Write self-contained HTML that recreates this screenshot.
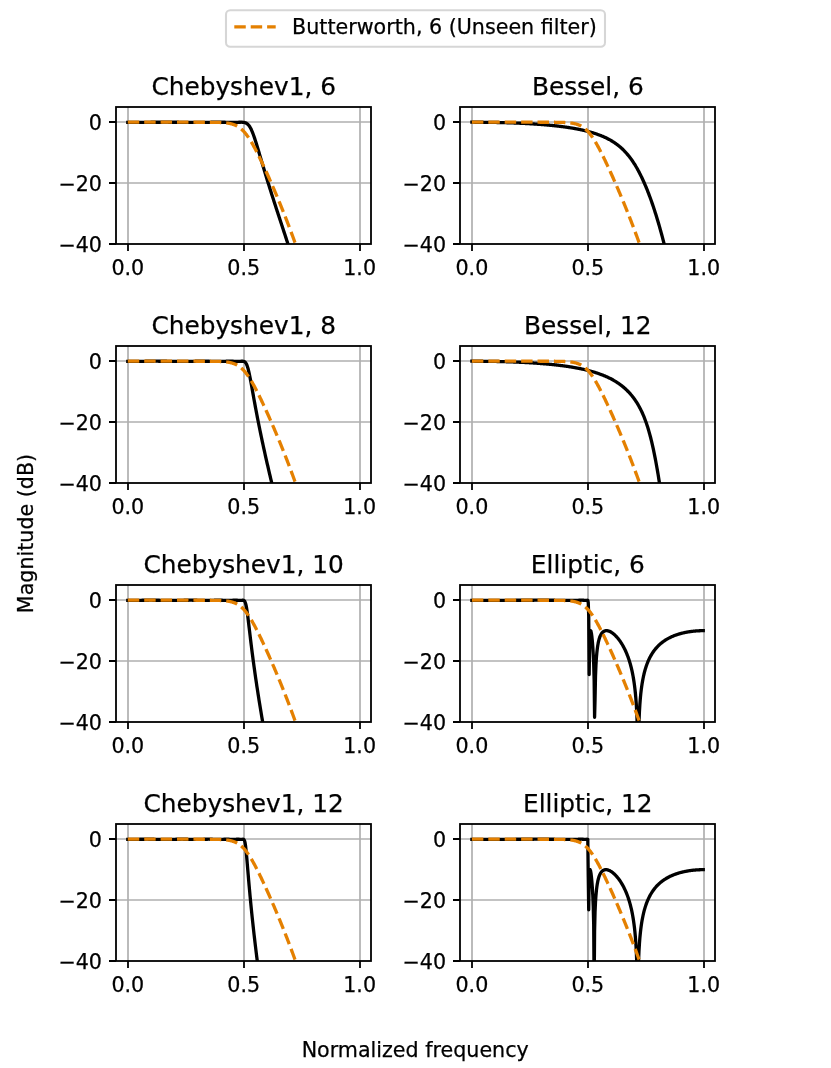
<!DOCTYPE html>
<html><head><meta charset="utf-8"><title>Filter magnitude responses</title>
<style>
html,body{margin:0;padding:0;background:#fff}
svg{display:block}
text{font-family:"DejaVu Sans","Liberation Sans",sans-serif;fill:#000;stroke:#000;stroke-width:0.25px}
.t{font-size:20.65px}
.h{font-size:24.80px}
</style></head><body>
<svg width="831" height="1068" viewBox="0 0 831 1068">
<rect width="831" height="1068" fill="#fff"/>
<defs>
<clipPath id="c00"><rect x="116.20" y="107.00" width="255.00" height="137.00"/></clipPath>
<clipPath id="c01"><rect x="460.30" y="107.00" width="255.00" height="137.00"/></clipPath>
<clipPath id="c10"><rect x="116.20" y="346.00" width="255.00" height="137.00"/></clipPath>
<clipPath id="c11"><rect x="460.30" y="346.00" width="255.00" height="137.00"/></clipPath>
<clipPath id="c20"><rect x="116.20" y="585.00" width="255.00" height="137.00"/></clipPath>
<clipPath id="c21"><rect x="460.30" y="585.00" width="255.00" height="137.00"/></clipPath>
<clipPath id="c30"><rect x="116.20" y="824.00" width="255.00" height="137.00"/></clipPath>
<clipPath id="c31"><rect x="460.30" y="824.00" width="255.00" height="137.00"/></clipPath>
</defs>
<g>
<path d="M128 107V244M244 107V244M360 107V244M116 122H371M116 183H371" stroke="#b0b0b0" stroke-width="1.700" fill="none"/>
<path d="M128 244v7M244 244v7M360 244v7M116 122h-7M116 183h-7M116 244h-7" stroke="#000" stroke-width="1.800" fill="none"/>
<g clip-path="url(#c00)" fill="none" stroke-width="3.300" stroke-linejoin="round">
<path d="M127.79 122.37L128.24 122.37L128.70 122.37L129.15 122.37L129.60 122.37L130.05 122.37L130.51 122.37L130.96 122.37L131.41 122.37L131.87 122.37L132.32 122.37L132.77 122.37L133.22 122.37L133.68 122.37L134.13 122.36L134.58 122.36L135.04 122.36L135.49 122.36L135.94 122.36L136.39 122.36L136.85 122.35L137.30 122.35L137.75 122.35L138.20 122.35L138.66 122.35L139.11 122.34L139.56 122.34L140.02 122.34L140.47 122.34L140.92 122.33L141.37 122.33L141.83 122.33L142.28 122.33L142.73 122.32L143.19 122.32L143.64 122.32L144.09 122.32L144.54 122.31L145.00 122.31L145.45 122.31L145.90 122.31L146.35 122.30L146.81 122.30L147.26 122.30L147.71 122.29L148.17 122.29L148.62 122.29L149.07 122.29L149.52 122.28L149.98 122.28L150.43 122.28L150.88 122.27L151.33 122.27L151.79 122.27L152.24 122.27L152.69 122.26L153.15 122.26L153.60 122.26L154.05 122.26L154.50 122.25L154.96 122.25L155.41 122.25L155.86 122.25L156.32 122.24L156.77 122.24L157.22 122.24L157.67 122.24L158.13 122.24L158.58 122.23L159.03 122.23L159.48 122.23L159.94 122.23L160.39 122.23L160.84 122.23L161.30 122.23L161.75 122.23L162.20 122.22L162.65 122.22L163.11 122.22L163.56 122.22L164.01 122.22L164.47 122.22L164.92 122.22L165.37 122.22L165.82 122.22L166.28 122.22L166.73 122.22L167.18 122.22L167.63 122.22L168.09 122.22L168.54 122.23L168.99 122.23L169.45 122.23L169.90 122.23L170.35 122.23L170.80 122.23L171.26 122.23L171.71 122.24L172.16 122.24L172.62 122.24L173.07 122.24L173.52 122.24L173.97 122.25L174.43 122.25L174.88 122.25L175.33 122.25L175.78 122.26L176.24 122.26L176.69 122.26L177.14 122.27L177.60 122.27L178.05 122.27L178.50 122.27L178.95 122.28L179.41 122.28L179.86 122.28L180.31 122.29L180.76 122.29L181.22 122.29L181.67 122.30L182.12 122.30L182.58 122.31L183.03 122.31L183.48 122.31L183.93 122.32L184.39 122.32L184.84 122.32L185.29 122.33L185.75 122.33L186.20 122.33L186.65 122.34L187.10 122.34L187.56 122.34L188.01 122.34L188.46 122.35L188.91 122.35L189.37 122.35L189.82 122.36L190.27 122.36L190.73 122.36L191.18 122.36L191.63 122.36L192.08 122.37L192.54 122.37L192.99 122.37L193.44 122.37L193.90 122.37L194.35 122.37L194.80 122.37L195.25 122.37L195.71 122.37L196.16 122.37L196.61 122.37L197.06 122.37L197.52 122.37L197.97 122.37L198.42 122.37L198.88 122.37L199.33 122.37L199.78 122.37L200.23 122.37L200.69 122.36L201.14 122.36L201.59 122.36L202.05 122.36L202.50 122.35L202.95 122.35L203.40 122.35L203.86 122.34L204.31 122.34L204.76 122.34L205.21 122.33L205.67 122.33L206.12 122.32L206.57 122.32L207.03 122.31L207.48 122.31L207.93 122.30L208.38 122.30L208.84 122.29L209.29 122.29L209.74 122.29L210.20 122.28L210.65 122.28L211.10 122.27L211.55 122.27L212.01 122.26L212.46 122.26L212.91 122.25L213.36 122.25L213.82 122.24L214.27 122.24L214.72 122.24L215.18 122.23L215.63 122.23L216.08 122.23L216.53 122.23L216.99 122.23L217.44 122.22L217.89 122.22L218.34 122.22L218.80 122.22L219.25 122.22L219.70 122.22L220.16 122.22L220.61 122.23L221.06 122.23L221.51 122.23L221.97 122.24L222.42 122.24L222.87 122.24L223.33 122.25L223.78 122.25L224.23 122.26L224.68 122.27L225.14 122.27L225.59 122.28L226.04 122.29L226.49 122.29L226.95 122.30L227.40 122.31L227.85 122.32L228.31 122.32L228.76 122.33L229.21 122.34L229.66 122.35L230.12 122.35L230.57 122.36L231.02 122.36L231.48 122.37L231.93 122.37L232.38 122.37L232.83 122.37L233.29 122.37L233.74 122.37L234.19 122.37L234.64 122.37L235.10 122.36L235.55 122.35L236.00 122.35L236.46 122.34L236.91 122.33L237.36 122.31L237.81 122.30L238.27 122.29L238.72 122.27L239.17 122.26L239.63 122.25L240.08 122.24L240.53 122.23L240.98 122.22L241.44 122.22L241.89 122.23L242.34 122.25L242.79 122.28L243.25 122.32L243.70 122.37L244.15 122.45L244.61 122.55L245.06 122.68L245.51 122.84L245.96 123.03L246.42 123.27L246.87 123.55L247.32 123.89L247.77 124.28L248.23 124.73L248.68 125.24L249.13 125.82L249.59 126.47L250.04 127.20L250.49 127.99L250.94 128.87L251.40 129.81L251.85 130.82L252.30 131.89L252.76 133.03L253.21 134.23L253.66 135.48L254.11 136.77L254.57 138.11L255.02 139.48L255.47 140.89L255.92 142.32L256.38 143.78L256.83 145.26L257.28 146.75L257.74 148.26L258.19 149.78L258.64 151.30L259.09 152.83L259.55 154.36L260.00 155.89L260.45 157.42L260.91 158.96L261.36 160.49L261.81 162.01L262.26 163.54L262.72 165.06L263.17 166.57L263.62 168.08L264.07 169.59L264.53 171.09L264.98 172.58L265.43 174.07L265.89 175.55L266.34 177.03L266.79 178.50L267.24 179.97L267.70 181.43L268.15 182.89L268.60 184.34L269.06 185.79L269.51 187.23L269.96 188.67L270.41 190.10L270.87 191.53L271.32 192.96L271.77 194.38L272.22 195.79L272.68 197.21L273.13 198.62L273.58 200.02L274.04 201.43L274.49 202.83L274.94 204.22L275.39 205.62L275.85 207.01L276.30 208.40L276.75 209.79L277.20 211.18L277.66 212.56L278.11 213.95L278.56 215.33L279.02 216.71L279.47 218.09L279.92 219.47L280.37 220.84L280.83 222.22L281.28 223.60L281.73 224.97L282.19 226.35L282.64 227.73L283.09 229.10L283.54 230.48L284.00 231.86L284.45 233.23L284.90 234.61L285.35 235.99L285.81 237.37L286.26 238.75L286.71 240.14L287.17 241.52L287.62 242.91L288.07 244.30L288.52 245.69L288.98 247.08L289.43 248.47L289.88 249.87L290.34 251.27L290.79 252.67L291.24 254.07L291.69 255.48L292.15 256.89L292.60 258.30L293.05 259.72L293.50 261.14L293.96 262.56L294.41 263.99L294.86 265.42L295.32 266.86L295.77 268.30L296.22 269.74L296.67 271.19L297.13 272.64L297.58 274.10" stroke="#000" stroke-linecap="square"/>
<path d="M127.79 122.22L128.24 122.22L128.70 122.22L129.15 122.22L129.60 122.22L130.05 122.22L130.51 122.22L130.96 122.22L131.41 122.22L131.87 122.22L132.32 122.22L132.77 122.22L133.22 122.22L133.68 122.22L134.13 122.22L134.58 122.22L135.04 122.22L135.49 122.22L135.94 122.22L136.39 122.22L136.85 122.22L137.30 122.22L137.75 122.22L138.20 122.22L138.66 122.22L139.11 122.22L139.56 122.22L140.02 122.22L140.47 122.22L140.92 122.22L141.37 122.22L141.83 122.22L142.28 122.22L142.73 122.22L143.19 122.22L143.64 122.22L144.09 122.22L144.54 122.22L145.00 122.22L145.45 122.22L145.90 122.22L146.35 122.22L146.81 122.22L147.26 122.22L147.71 122.22L148.17 122.22L148.62 122.22L149.07 122.22L149.52 122.22L149.98 122.22L150.43 122.22L150.88 122.22L151.33 122.22L151.79 122.22L152.24 122.22L152.69 122.22L153.15 122.22L153.60 122.22L154.05 122.22L154.50 122.22L154.96 122.22L155.41 122.22L155.86 122.22L156.32 122.22L156.77 122.22L157.22 122.22L157.67 122.22L158.13 122.22L158.58 122.22L159.03 122.22L159.48 122.22L159.94 122.22L160.39 122.22L160.84 122.22L161.30 122.22L161.75 122.22L162.20 122.22L162.65 122.22L163.11 122.22L163.56 122.22L164.01 122.22L164.47 122.22L164.92 122.22L165.37 122.22L165.82 122.22L166.28 122.22L166.73 122.22L167.18 122.22L167.63 122.22L168.09 122.22L168.54 122.22L168.99 122.22L169.45 122.22L169.90 122.22L170.35 122.22L170.80 122.22L171.26 122.22L171.71 122.22L172.16 122.22L172.62 122.22L173.07 122.22L173.52 122.22L173.97 122.22L174.43 122.22L174.88 122.22L175.33 122.22L175.78 122.22L176.24 122.22L176.69 122.22L177.14 122.22L177.60 122.22L178.05 122.22L178.50 122.22L178.95 122.22L179.41 122.22L179.86 122.22L180.31 122.22L180.76 122.22L181.22 122.22L181.67 122.22L182.12 122.22L182.58 122.22L183.03 122.22L183.48 122.22L183.93 122.22L184.39 122.22L184.84 122.22L185.29 122.22L185.75 122.22L186.20 122.22L186.65 122.22L187.10 122.22L187.56 122.22L188.01 122.22L188.46 122.22L188.91 122.22L189.37 122.22L189.82 122.22L190.27 122.22L190.73 122.22L191.18 122.22L191.63 122.22L192.08 122.22L192.54 122.22L192.99 122.22L193.44 122.22L193.90 122.22L194.35 122.22L194.80 122.22L195.25 122.22L195.71 122.23L196.16 122.23L196.61 122.23L197.06 122.23L197.52 122.23L197.97 122.23L198.42 122.23L198.88 122.23L199.33 122.23L199.78 122.23L200.23 122.23L200.69 122.23L201.14 122.23L201.59 122.23L202.05 122.23L202.50 122.23L202.95 122.23L203.40 122.24L203.86 122.24L204.31 122.24L204.76 122.24L205.21 122.24L205.67 122.24L206.12 122.24L206.57 122.25L207.03 122.25L207.48 122.25L207.93 122.25L208.38 122.26L208.84 122.26L209.29 122.26L209.74 122.27L210.20 122.27L210.65 122.27L211.10 122.28L211.55 122.28L212.01 122.29L212.46 122.29L212.91 122.30L213.36 122.30L213.82 122.31L214.27 122.32L214.72 122.33L215.18 122.34L215.63 122.34L216.08 122.35L216.53 122.37L216.99 122.38L217.44 122.39L217.89 122.40L218.34 122.42L218.80 122.43L219.25 122.45L219.70 122.47L220.16 122.49L220.61 122.51L221.06 122.53L221.51 122.56L221.97 122.58L222.42 122.61L222.87 122.64L223.33 122.68L223.78 122.71L224.23 122.75L224.68 122.79L225.14 122.83L225.59 122.88L226.04 122.93L226.49 122.98L226.95 123.04L227.40 123.11L227.85 123.17L228.31 123.24L228.76 123.32L229.21 123.40L229.66 123.49L230.12 123.58L230.57 123.68L231.02 123.79L231.48 123.90L231.93 124.03L232.38 124.16L232.83 124.30L233.29 124.44L233.74 124.60L234.19 124.77L234.64 124.94L235.10 125.13L235.55 125.33L236.00 125.54L236.46 125.77L236.91 126.00L237.36 126.25L237.81 126.51L238.27 126.79L238.72 127.09L239.17 127.39L239.63 127.72L240.08 128.06L240.53 128.41L240.98 128.79L241.44 129.18L241.89 129.58L242.34 130.01L242.79 130.45L243.25 130.91L243.70 131.39L244.15 131.88L244.61 132.40L245.06 132.93L245.51 133.48L245.96 134.04L246.42 134.63L246.87 135.23L247.32 135.85L247.77 136.48L248.23 137.14L248.68 137.80L249.13 138.49L249.59 139.18L250.04 139.90L250.49 140.63L250.94 141.37L251.40 142.12L251.85 142.89L252.30 143.67L252.76 144.46L253.21 145.27L253.66 146.08L254.11 146.91L254.57 147.74L255.02 148.59L255.47 149.45L255.92 150.31L256.38 151.18L256.83 152.07L257.28 152.96L257.74 153.85L258.19 154.76L258.64 155.67L259.09 156.59L259.55 157.51L260.00 158.44L260.45 159.38L260.91 160.32L261.36 161.27L261.81 162.22L262.26 163.18L262.72 164.14L263.17 165.11L263.62 166.08L264.07 167.05L264.53 168.03L264.98 169.02L265.43 170.00L265.89 171.00L266.34 171.99L266.79 172.99L267.24 173.99L267.70 175.00L268.15 176.01L268.60 177.02L269.06 178.04L269.51 179.06L269.96 180.09L270.41 181.11L270.87 182.14L271.32 183.18L271.77 184.21L272.22 185.26L272.68 186.30L273.13 187.35L273.58 188.40L274.04 189.45L274.49 190.51L274.94 191.57L275.39 192.63L275.85 193.70L276.30 194.77L276.75 195.84L277.20 196.92L277.66 198.00L278.11 199.09L278.56 200.18L279.02 201.27L279.47 202.36L279.92 203.46L280.37 204.57L280.83 205.67L281.28 206.79L281.73 207.90L282.19 209.02L282.64 210.14L283.09 211.27L283.54 212.40L284.00 213.54L284.45 214.68L284.90 215.82L285.35 216.97L285.81 218.13L286.26 219.29L286.71 220.45L287.17 221.62L287.62 222.79L288.07 223.97L288.52 225.15L288.98 226.34L289.43 227.53L289.88 228.73L290.34 229.93L290.79 231.14L291.24 232.35L291.69 233.57L292.15 234.80L292.60 236.03L293.05 237.27L293.50 238.51L293.96 239.76L294.41 241.02L294.86 242.28L295.32 243.55L295.77 244.83L296.22 246.11L296.67 247.40L297.13 248.69L297.58 250.00L298.03 251.31L298.49 252.62L298.94 253.95L299.39 255.28L299.84 256.62L300.30 257.97L300.75 259.33L301.20 260.69L301.65 262.06L302.11 263.44L302.56 264.83L303.01 266.23L303.47 267.64L303.92 269.06L304.37 270.48L304.82 271.92L305.28 273.36L305.73 274.82" stroke="#e48001" stroke-dasharray="11.46 4.95"/>
</g>
<rect x="116" y="107" width="255" height="137" fill="none" stroke="#000" stroke-width="1.800"/>
<text class="t" x="127.79" y="274.90" text-anchor="middle">0.0</text>
<text class="t" x="243.70" y="274.90" text-anchor="middle">0.5</text>
<text class="t" x="359.61" y="274.90" text-anchor="middle">1.0</text>
<text class="t" x="102.00" y="130.40" text-anchor="end">0</text>
<text class="t" x="102.00" y="191.40" text-anchor="end">−20</text>
<text class="t" x="102.00" y="252.40" text-anchor="end">−40</text>
<text class="h" x="243.70" y="94.60" text-anchor="middle">Chebyshev1, 6</text>
</g>
<g>
<path d="M472 107V244M588 107V244M704 107V244M460 122H715M460 183H715" stroke="#b0b0b0" stroke-width="1.700" fill="none"/>
<path d="M472 244v7M588 244v7M704 244v7M460 122h-7M460 183h-7M460 244h-7" stroke="#000" stroke-width="1.800" fill="none"/>
<g clip-path="url(#c01)" fill="none" stroke-width="3.300" stroke-linejoin="round">
<path d="M471.89 122.22L472.34 122.22L472.80 122.22L473.25 122.22L473.70 122.22L474.15 122.22L474.61 122.23L475.06 122.23L475.51 122.23L475.97 122.23L476.42 122.23L476.87 122.23L477.32 122.23L477.78 122.24L478.23 122.24L478.68 122.24L479.14 122.24L479.59 122.25L480.04 122.25L480.49 122.25L480.95 122.26L481.40 122.26L481.85 122.26L482.30 122.27L482.76 122.27L483.21 122.27L483.66 122.28L484.12 122.28L484.57 122.29L485.02 122.29L485.47 122.30L485.93 122.30L486.38 122.31L486.83 122.31L487.29 122.32L487.74 122.32L488.19 122.33L488.64 122.34L489.10 122.34L489.55 122.35L490.00 122.36L490.45 122.36L490.91 122.37L491.36 122.38L491.81 122.38L492.27 122.39L492.72 122.40L493.17 122.41L493.62 122.42L494.08 122.42L494.53 122.43L494.98 122.44L495.43 122.45L495.89 122.46L496.34 122.47L496.79 122.48L497.25 122.49L497.70 122.50L498.15 122.51L498.60 122.52L499.06 122.53L499.51 122.54L499.96 122.55L500.42 122.56L500.87 122.57L501.32 122.58L501.77 122.59L502.23 122.60L502.68 122.62L503.13 122.63L503.58 122.64L504.04 122.65L504.49 122.67L504.94 122.68L505.40 122.69L505.85 122.71L506.30 122.72L506.75 122.73L507.21 122.75L507.66 122.76L508.11 122.77L508.57 122.79L509.02 122.80L509.47 122.82L509.92 122.83L510.38 122.85L510.83 122.87L511.28 122.88L511.73 122.90L512.19 122.91L512.64 122.93L513.09 122.95L513.55 122.96L514.00 122.98L514.45 123.00L514.90 123.02L515.36 123.03L515.81 123.05L516.26 123.07L516.72 123.09L517.17 123.11L517.62 123.13L518.07 123.15L518.53 123.17L518.98 123.18L519.43 123.20L519.88 123.23L520.34 123.25L520.79 123.27L521.24 123.29L521.70 123.31L522.15 123.33L522.60 123.35L523.05 123.37L523.51 123.40L523.96 123.42L524.41 123.44L524.86 123.47L525.32 123.49L525.77 123.51L526.22 123.54L526.68 123.56L527.13 123.59L527.58 123.61L528.03 123.64L528.49 123.66L528.94 123.69L529.39 123.71L529.85 123.74L530.30 123.77L530.75 123.79L531.20 123.82L531.66 123.85L532.11 123.88L532.56 123.90L533.01 123.93L533.47 123.96L533.92 123.99L534.37 124.02L534.83 124.05L535.28 124.08L535.73 124.11L536.18 124.14L536.64 124.17L537.09 124.20L537.54 124.24L538.00 124.27L538.45 124.30L538.90 124.33L539.35 124.37L539.81 124.40L540.26 124.43L540.71 124.47L541.16 124.50L541.62 124.54L542.07 124.58L542.52 124.61L542.98 124.65L543.43 124.68L543.88 124.72L544.33 124.76L544.79 124.80L545.24 124.84L545.69 124.87L546.15 124.91L546.60 124.95L547.05 124.99L547.50 125.04L547.96 125.08L548.41 125.12L548.86 125.16L549.31 125.20L549.77 125.25L550.22 125.29L550.67 125.33L551.13 125.38L551.58 125.42L552.03 125.47L552.48 125.51L552.94 125.56L553.39 125.61L553.84 125.65L554.30 125.70L554.75 125.75L555.20 125.80L555.65 125.85L556.11 125.90L556.56 125.95L557.01 126.00L557.46 126.05L557.92 126.11L558.37 126.16L558.82 126.21L559.28 126.27L559.73 126.32L560.18 126.38L560.63 126.43L561.09 126.49L561.54 126.55L561.99 126.61L562.44 126.66L562.90 126.72L563.35 126.78L563.80 126.85L564.26 126.91L564.71 126.97L565.16 127.03L565.61 127.10L566.07 127.16L566.52 127.23L566.97 127.29L567.43 127.36L567.88 127.43L568.33 127.49L568.78 127.56L569.24 127.63L569.69 127.70L570.14 127.78L570.59 127.85L571.05 127.92L571.50 128.00L571.95 128.07L572.41 128.15L572.86 128.22L573.31 128.30L573.76 128.38L574.22 128.46L574.67 128.54L575.12 128.62L575.58 128.70L576.03 128.79L576.48 128.87L576.93 128.96L577.39 129.05L577.84 129.13L578.29 129.22L578.74 129.31L579.20 129.41L579.65 129.50L580.10 129.59L580.56 129.69L581.01 129.78L581.46 129.88L581.91 129.98L582.37 130.08L582.82 130.18L583.27 130.28L583.73 130.39L584.18 130.49L584.63 130.60L585.08 130.71L585.54 130.82L585.99 130.93L586.44 131.04L586.89 131.15L587.35 131.27L587.80 131.39L588.25 131.51L588.71 131.63L589.16 131.75L589.61 131.87L590.06 132.00L590.52 132.13L590.97 132.25L591.42 132.39L591.87 132.52L592.33 132.65L592.78 132.79L593.23 132.93L593.69 133.07L594.14 133.21L594.59 133.36L595.04 133.50L595.50 133.65L595.95 133.80L596.40 133.96L596.86 134.11L597.31 134.27L597.76 134.43L598.21 134.60L598.67 134.76L599.12 134.93L599.57 135.10L600.02 135.28L600.48 135.45L600.93 135.63L601.38 135.82L601.84 136.00L602.29 136.19L602.74 136.38L603.19 136.57L603.65 136.77L604.10 136.97L604.55 137.18L605.01 137.38L605.46 137.60L605.91 137.81L606.36 138.03L606.82 138.25L607.27 138.48L607.72 138.71L608.17 138.94L608.63 139.18L609.08 139.42L609.53 139.67L609.99 139.92L610.44 140.18L610.89 140.44L611.34 140.70L611.80 140.97L612.25 141.25L612.70 141.53L613.16 141.81L613.61 142.10L614.06 142.40L614.51 142.70L614.97 143.01L615.42 143.32L615.87 143.64L616.32 143.97L616.78 144.30L617.23 144.64L617.68 144.98L618.14 145.33L618.59 145.69L619.04 146.06L619.49 146.43L619.95 146.81L620.40 147.20L620.85 147.60L621.30 148.00L621.76 148.41L622.21 148.83L622.66 149.26L623.12 149.70L623.57 150.15L624.02 150.60L624.47 151.07L624.93 151.54L625.38 152.02L625.83 152.52L626.29 153.02L626.74 153.53L627.19 154.06L627.64 154.59L628.10 155.14L628.55 155.69L629.00 156.26L629.45 156.84L629.91 157.43L630.36 158.03L630.81 158.64L631.27 159.27L631.72 159.91L632.17 160.56L632.62 161.22L633.08 161.89L633.53 162.58L633.98 163.28L634.44 163.99L634.89 164.72L635.34 165.46L635.79 166.22L636.25 166.98L636.70 167.76L637.15 168.56L637.60 169.37L638.06 170.19L638.51 171.03L638.96 171.88L639.42 172.75L639.87 173.63L640.32 174.52L640.77 175.43L641.23 176.36L641.68 177.30L642.13 178.25L642.59 179.22L643.04 180.20L643.49 181.20L643.94 182.21L644.40 183.24L644.85 184.29L645.30 185.35L645.75 186.42L646.21 187.51L646.66 188.62L647.11 189.74L647.57 190.87L648.02 192.03L648.47 193.19L648.92 194.38L649.38 195.57L649.83 196.79L650.28 198.02L650.74 199.27L651.19 200.53L651.64 201.81L652.09 203.10L652.55 204.41L653.00 205.74L653.45 207.08L653.90 208.44L654.36 209.82L654.81 211.21L655.26 212.63L655.72 214.05L656.17 215.50L656.62 216.96L657.07 218.44L657.53 219.94L657.98 221.46L658.43 222.99L658.88 224.54L659.34 226.12L659.79 227.71L660.24 229.32L660.70 230.95L661.15 232.59L661.60 234.26L662.05 235.95L662.51 237.66L662.96 239.39L663.41 241.14L663.87 242.92L664.32 244.71L664.77 246.53L665.22 248.37L665.68 250.24L666.13 252.13L666.58 254.04L667.03 255.98L667.49 257.94L667.94 259.93L668.39 261.95L668.85 263.99L669.30 266.06L669.75 268.16L670.20 270.28L670.66 272.44L671.11 274.63" stroke="#000" stroke-linecap="square"/>
<path d="M471.89 122.22L472.34 122.22L472.80 122.22L473.25 122.22L473.70 122.22L474.15 122.22L474.61 122.22L475.06 122.22L475.51 122.22L475.97 122.22L476.42 122.22L476.87 122.22L477.32 122.22L477.78 122.22L478.23 122.22L478.68 122.22L479.14 122.22L479.59 122.22L480.04 122.22L480.49 122.22L480.95 122.22L481.40 122.22L481.85 122.22L482.30 122.22L482.76 122.22L483.21 122.22L483.66 122.22L484.12 122.22L484.57 122.22L485.02 122.22L485.47 122.22L485.93 122.22L486.38 122.22L486.83 122.22L487.29 122.22L487.74 122.22L488.19 122.22L488.64 122.22L489.10 122.22L489.55 122.22L490.00 122.22L490.45 122.22L490.91 122.22L491.36 122.22L491.81 122.22L492.27 122.22L492.72 122.22L493.17 122.22L493.62 122.22L494.08 122.22L494.53 122.22L494.98 122.22L495.43 122.22L495.89 122.22L496.34 122.22L496.79 122.22L497.25 122.22L497.70 122.22L498.15 122.22L498.60 122.22L499.06 122.22L499.51 122.22L499.96 122.22L500.42 122.22L500.87 122.22L501.32 122.22L501.77 122.22L502.23 122.22L502.68 122.22L503.13 122.22L503.58 122.22L504.04 122.22L504.49 122.22L504.94 122.22L505.40 122.22L505.85 122.22L506.30 122.22L506.75 122.22L507.21 122.22L507.66 122.22L508.11 122.22L508.57 122.22L509.02 122.22L509.47 122.22L509.92 122.22L510.38 122.22L510.83 122.22L511.28 122.22L511.73 122.22L512.19 122.22L512.64 122.22L513.09 122.22L513.55 122.22L514.00 122.22L514.45 122.22L514.90 122.22L515.36 122.22L515.81 122.22L516.26 122.22L516.72 122.22L517.17 122.22L517.62 122.22L518.07 122.22L518.53 122.22L518.98 122.22L519.43 122.22L519.88 122.22L520.34 122.22L520.79 122.22L521.24 122.22L521.70 122.22L522.15 122.22L522.60 122.22L523.05 122.22L523.51 122.22L523.96 122.22L524.41 122.22L524.86 122.22L525.32 122.22L525.77 122.22L526.22 122.22L526.68 122.22L527.13 122.22L527.58 122.22L528.03 122.22L528.49 122.22L528.94 122.22L529.39 122.22L529.85 122.22L530.30 122.22L530.75 122.22L531.20 122.22L531.66 122.22L532.11 122.22L532.56 122.22L533.01 122.22L533.47 122.22L533.92 122.22L534.37 122.22L534.83 122.22L535.28 122.22L535.73 122.22L536.18 122.22L536.64 122.22L537.09 122.22L537.54 122.22L538.00 122.22L538.45 122.22L538.90 122.22L539.35 122.22L539.81 122.23L540.26 122.23L540.71 122.23L541.16 122.23L541.62 122.23L542.07 122.23L542.52 122.23L542.98 122.23L543.43 122.23L543.88 122.23L544.33 122.23L544.79 122.23L545.24 122.23L545.69 122.23L546.15 122.23L546.60 122.23L547.05 122.23L547.50 122.24L547.96 122.24L548.41 122.24L548.86 122.24L549.31 122.24L549.77 122.24L550.22 122.24L550.67 122.25L551.13 122.25L551.58 122.25L552.03 122.25L552.48 122.26L552.94 122.26L553.39 122.26L553.84 122.27L554.30 122.27L554.75 122.27L555.20 122.28L555.65 122.28L556.11 122.29L556.56 122.29L557.01 122.30L557.46 122.30L557.92 122.31L558.37 122.32L558.82 122.33L559.28 122.34L559.73 122.34L560.18 122.35L560.63 122.37L561.09 122.38L561.54 122.39L561.99 122.40L562.44 122.42L562.90 122.43L563.35 122.45L563.80 122.47L564.26 122.49L564.71 122.51L565.16 122.53L565.61 122.56L566.07 122.58L566.52 122.61L566.97 122.64L567.43 122.68L567.88 122.71L568.33 122.75L568.78 122.79L569.24 122.83L569.69 122.88L570.14 122.93L570.59 122.98L571.05 123.04L571.50 123.11L571.95 123.17L572.41 123.24L572.86 123.32L573.31 123.40L573.76 123.49L574.22 123.58L574.67 123.68L575.12 123.79L575.58 123.90L576.03 124.03L576.48 124.16L576.93 124.30L577.39 124.44L577.84 124.60L578.29 124.77L578.74 124.94L579.20 125.13L579.65 125.33L580.10 125.54L580.56 125.77L581.01 126.00L581.46 126.25L581.91 126.51L582.37 126.79L582.82 127.09L583.27 127.39L583.73 127.72L584.18 128.06L584.63 128.41L585.08 128.79L585.54 129.18L585.99 129.58L586.44 130.01L586.89 130.45L587.35 130.91L587.80 131.39L588.25 131.88L588.71 132.40L589.16 132.93L589.61 133.48L590.06 134.04L590.52 134.63L590.97 135.23L591.42 135.85L591.87 136.48L592.33 137.14L592.78 137.80L593.23 138.49L593.69 139.18L594.14 139.90L594.59 140.63L595.04 141.37L595.50 142.12L595.95 142.89L596.40 143.67L596.86 144.46L597.31 145.27L597.76 146.08L598.21 146.91L598.67 147.74L599.12 148.59L599.57 149.45L600.02 150.31L600.48 151.18L600.93 152.07L601.38 152.96L601.84 153.85L602.29 154.76L602.74 155.67L603.19 156.59L603.65 157.51L604.10 158.44L604.55 159.38L605.01 160.32L605.46 161.27L605.91 162.22L606.36 163.18L606.82 164.14L607.27 165.11L607.72 166.08L608.17 167.05L608.63 168.03L609.08 169.02L609.53 170.00L609.99 171.00L610.44 171.99L610.89 172.99L611.34 173.99L611.80 175.00L612.25 176.01L612.70 177.02L613.16 178.04L613.61 179.06L614.06 180.09L614.51 181.11L614.97 182.14L615.42 183.18L615.87 184.21L616.32 185.26L616.78 186.30L617.23 187.35L617.68 188.40L618.14 189.45L618.59 190.51L619.04 191.57L619.49 192.63L619.95 193.70L620.40 194.77L620.85 195.84L621.30 196.92L621.76 198.00L622.21 199.09L622.66 200.18L623.12 201.27L623.57 202.36L624.02 203.46L624.47 204.57L624.93 205.67L625.38 206.79L625.83 207.90L626.29 209.02L626.74 210.14L627.19 211.27L627.64 212.40L628.10 213.54L628.55 214.68L629.00 215.82L629.45 216.97L629.91 218.13L630.36 219.29L630.81 220.45L631.27 221.62L631.72 222.79L632.17 223.97L632.62 225.15L633.08 226.34L633.53 227.53L633.98 228.73L634.44 229.93L634.89 231.14L635.34 232.35L635.79 233.57L636.25 234.80L636.70 236.03L637.15 237.27L637.60 238.51L638.06 239.76L638.51 241.02L638.96 242.28L639.42 243.55L639.87 244.83L640.32 246.11L640.77 247.40L641.23 248.69L641.68 250.00L642.13 251.31L642.59 252.62L643.04 253.95L643.49 255.28L643.94 256.62L644.40 257.97L644.85 259.33L645.30 260.69L645.75 262.06L646.21 263.44L646.66 264.83L647.11 266.23L647.57 267.64L648.02 269.06L648.47 270.48L648.92 271.92L649.38 273.36L649.83 274.82" stroke="#e48001" stroke-dasharray="11.46 4.95"/>
</g>
<rect x="460" y="107" width="255" height="137" fill="none" stroke="#000" stroke-width="1.800"/>
<text class="t" x="471.89" y="274.90" text-anchor="middle">0.0</text>
<text class="t" x="587.80" y="274.90" text-anchor="middle">0.5</text>
<text class="t" x="703.71" y="274.90" text-anchor="middle">1.0</text>
<text class="t" x="446.10" y="130.40" text-anchor="end">0</text>
<text class="t" x="446.10" y="191.40" text-anchor="end">−20</text>
<text class="t" x="446.10" y="252.40" text-anchor="end">−40</text>
<text class="h" x="587.80" y="94.60" text-anchor="middle">Bessel, 6</text>
</g>
<g>
<path d="M128 346V483M244 346V483M360 346V483M116 361H371M116 422H371" stroke="#b0b0b0" stroke-width="1.700" fill="none"/>
<path d="M128 483v7M244 483v7M360 483v7M116 361h-7M116 422h-7M116 483h-7" stroke="#000" stroke-width="1.800" fill="none"/>
<g clip-path="url(#c10)" fill="none" stroke-width="3.300" stroke-linejoin="round">
<path d="M127.79 361.37L128.24 361.37L128.70 361.37L129.15 361.37L129.60 361.37L130.05 361.37L130.51 361.37L130.96 361.37L131.41 361.37L131.87 361.37L132.32 361.37L132.77 361.36L133.22 361.36L133.68 361.36L134.13 361.36L134.58 361.35L135.04 361.35L135.49 361.35L135.94 361.35L136.39 361.34L136.85 361.34L137.30 361.34L137.75 361.33L138.20 361.33L138.66 361.33L139.11 361.32L139.56 361.32L140.02 361.32L140.47 361.31L140.92 361.31L141.37 361.31L141.83 361.30L142.28 361.30L142.73 361.29L143.19 361.29L143.64 361.29L144.09 361.28L144.54 361.28L145.00 361.28L145.45 361.27L145.90 361.27L146.35 361.26L146.81 361.26L147.26 361.26L147.71 361.25L148.17 361.25L148.62 361.25L149.07 361.25L149.52 361.24L149.98 361.24L150.43 361.24L150.88 361.24L151.33 361.23L151.79 361.23L152.24 361.23L152.69 361.23L153.15 361.23L153.60 361.23L154.05 361.22L154.50 361.22L154.96 361.22L155.41 361.22L155.86 361.22L156.32 361.22L156.77 361.22L157.22 361.22L157.67 361.22L158.13 361.22L158.58 361.23L159.03 361.23L159.48 361.23L159.94 361.23L160.39 361.23L160.84 361.23L161.30 361.24L161.75 361.24L162.20 361.24L162.65 361.24L163.11 361.25L163.56 361.25L164.01 361.25L164.47 361.26L164.92 361.26L165.37 361.26L165.82 361.27L166.28 361.27L166.73 361.27L167.18 361.28L167.63 361.28L168.09 361.29L168.54 361.29L168.99 361.29L169.45 361.30L169.90 361.30L170.35 361.31L170.80 361.31L171.26 361.32L171.71 361.32L172.16 361.32L172.62 361.33L173.07 361.33L173.52 361.34L173.97 361.34L174.43 361.34L174.88 361.35L175.33 361.35L175.78 361.35L176.24 361.36L176.69 361.36L177.14 361.36L177.60 361.36L178.05 361.37L178.50 361.37L178.95 361.37L179.41 361.37L179.86 361.37L180.31 361.37L180.76 361.37L181.22 361.37L181.67 361.37L182.12 361.37L182.58 361.37L183.03 361.37L183.48 361.37L183.93 361.37L184.39 361.37L184.84 361.37L185.29 361.37L185.75 361.36L186.20 361.36L186.65 361.36L187.10 361.35L187.56 361.35L188.01 361.35L188.46 361.34L188.91 361.34L189.37 361.34L189.82 361.33L190.27 361.33L190.73 361.32L191.18 361.32L191.63 361.31L192.08 361.31L192.54 361.30L192.99 361.30L193.44 361.29L193.90 361.29L194.35 361.28L194.80 361.28L195.25 361.27L195.71 361.27L196.16 361.26L196.61 361.26L197.06 361.25L197.52 361.25L197.97 361.24L198.42 361.24L198.88 361.24L199.33 361.23L199.78 361.23L200.23 361.23L200.69 361.23L201.14 361.22L201.59 361.22L202.05 361.22L202.50 361.22L202.95 361.22L203.40 361.22L203.86 361.22L204.31 361.23L204.76 361.23L205.21 361.23L205.67 361.23L206.12 361.24L206.57 361.24L207.03 361.24L207.48 361.25L207.93 361.25L208.38 361.26L208.84 361.26L209.29 361.27L209.74 361.28L210.20 361.28L210.65 361.29L211.10 361.30L211.55 361.30L212.01 361.31L212.46 361.32L212.91 361.32L213.36 361.33L213.82 361.34L214.27 361.34L214.72 361.35L215.18 361.35L215.63 361.36L216.08 361.36L216.53 361.37L216.99 361.37L217.44 361.37L217.89 361.37L218.34 361.37L218.80 361.37L219.25 361.37L219.70 361.37L220.16 361.37L220.61 361.37L221.06 361.36L221.51 361.36L221.97 361.35L222.42 361.34L222.87 361.34L223.33 361.33L223.78 361.32L224.23 361.31L224.68 361.30L225.14 361.29L225.59 361.28L226.04 361.27L226.49 361.27L226.95 361.26L227.40 361.25L227.85 361.24L228.31 361.24L228.76 361.23L229.21 361.23L229.66 361.22L230.12 361.22L230.57 361.22L231.02 361.23L231.48 361.23L231.93 361.24L232.38 361.24L232.83 361.25L233.29 361.26L233.74 361.28L234.19 361.29L234.64 361.30L235.10 361.32L235.55 361.33L236.00 361.35L236.46 361.36L236.91 361.37L237.36 361.37L237.81 361.37L238.27 361.37L238.72 361.37L239.17 361.35L239.63 361.34L240.08 361.32L240.53 361.29L240.98 361.27L241.44 361.25L241.89 361.23L242.34 361.22L242.79 361.24L243.25 361.28L243.70 361.37L244.15 361.53L244.61 361.76L245.06 362.10L245.51 362.57L245.96 363.20L246.42 364.01L246.87 365.01L247.32 366.23L247.77 367.65L248.23 369.29L248.68 371.12L249.13 373.12L249.59 375.26L250.04 377.53L250.49 379.89L250.94 382.32L251.40 384.80L251.85 387.31L252.30 389.84L252.76 392.37L253.21 394.90L253.66 397.42L254.11 399.93L254.57 402.42L255.02 404.88L255.47 407.33L255.92 409.75L256.38 412.15L256.83 414.52L257.28 416.87L257.74 419.20L258.19 421.50L258.64 423.78L259.09 426.04L259.55 428.28L260.00 430.50L260.45 432.69L260.91 434.87L261.36 437.03L261.81 439.18L262.26 441.30L262.72 443.41L263.17 445.51L263.62 447.58L264.07 449.65L264.53 451.70L264.98 453.74L265.43 455.77L265.89 457.78L266.34 459.79L266.79 461.78L267.24 463.76L267.70 465.73L268.15 467.70L268.60 469.65L269.06 471.60L269.51 473.53L269.96 475.46L270.41 477.39L270.87 479.30L271.32 481.21L271.77 483.11L272.22 485.01L272.68 486.90L273.13 488.79L273.58 490.67L274.04 492.54L274.49 494.41L274.94 496.28L275.39 498.15L275.85 500.01L276.30 501.86L276.75 503.72L277.20 505.57L277.66 507.42L278.11 509.26L278.56 511.11L279.02 512.95L279.47 514.79" stroke="#000" stroke-linecap="square"/>
<path d="M127.79 361.22L128.24 361.22L128.70 361.22L129.15 361.22L129.60 361.22L130.05 361.22L130.51 361.22L130.96 361.22L131.41 361.22L131.87 361.22L132.32 361.22L132.77 361.22L133.22 361.22L133.68 361.22L134.13 361.22L134.58 361.22L135.04 361.22L135.49 361.22L135.94 361.22L136.39 361.22L136.85 361.22L137.30 361.22L137.75 361.22L138.20 361.22L138.66 361.22L139.11 361.22L139.56 361.22L140.02 361.22L140.47 361.22L140.92 361.22L141.37 361.22L141.83 361.22L142.28 361.22L142.73 361.22L143.19 361.22L143.64 361.22L144.09 361.22L144.54 361.22L145.00 361.22L145.45 361.22L145.90 361.22L146.35 361.22L146.81 361.22L147.26 361.22L147.71 361.22L148.17 361.22L148.62 361.22L149.07 361.22L149.52 361.22L149.98 361.22L150.43 361.22L150.88 361.22L151.33 361.22L151.79 361.22L152.24 361.22L152.69 361.22L153.15 361.22L153.60 361.22L154.05 361.22L154.50 361.22L154.96 361.22L155.41 361.22L155.86 361.22L156.32 361.22L156.77 361.22L157.22 361.22L157.67 361.22L158.13 361.22L158.58 361.22L159.03 361.22L159.48 361.22L159.94 361.22L160.39 361.22L160.84 361.22L161.30 361.22L161.75 361.22L162.20 361.22L162.65 361.22L163.11 361.22L163.56 361.22L164.01 361.22L164.47 361.22L164.92 361.22L165.37 361.22L165.82 361.22L166.28 361.22L166.73 361.22L167.18 361.22L167.63 361.22L168.09 361.22L168.54 361.22L168.99 361.22L169.45 361.22L169.90 361.22L170.35 361.22L170.80 361.22L171.26 361.22L171.71 361.22L172.16 361.22L172.62 361.22L173.07 361.22L173.52 361.22L173.97 361.22L174.43 361.22L174.88 361.22L175.33 361.22L175.78 361.22L176.24 361.22L176.69 361.22L177.14 361.22L177.60 361.22L178.05 361.22L178.50 361.22L178.95 361.22L179.41 361.22L179.86 361.22L180.31 361.22L180.76 361.22L181.22 361.22L181.67 361.22L182.12 361.22L182.58 361.22L183.03 361.22L183.48 361.22L183.93 361.22L184.39 361.22L184.84 361.22L185.29 361.22L185.75 361.22L186.20 361.22L186.65 361.22L187.10 361.22L187.56 361.22L188.01 361.22L188.46 361.22L188.91 361.22L189.37 361.22L189.82 361.22L190.27 361.22L190.73 361.22L191.18 361.22L191.63 361.22L192.08 361.22L192.54 361.22L192.99 361.22L193.44 361.22L193.90 361.22L194.35 361.22L194.80 361.22L195.25 361.22L195.71 361.23L196.16 361.23L196.61 361.23L197.06 361.23L197.52 361.23L197.97 361.23L198.42 361.23L198.88 361.23L199.33 361.23L199.78 361.23L200.23 361.23L200.69 361.23L201.14 361.23L201.59 361.23L202.05 361.23L202.50 361.23L202.95 361.23L203.40 361.24L203.86 361.24L204.31 361.24L204.76 361.24L205.21 361.24L205.67 361.24L206.12 361.24L206.57 361.25L207.03 361.25L207.48 361.25L207.93 361.25L208.38 361.26L208.84 361.26L209.29 361.26L209.74 361.27L210.20 361.27L210.65 361.27L211.10 361.28L211.55 361.28L212.01 361.29L212.46 361.29L212.91 361.30L213.36 361.30L213.82 361.31L214.27 361.32L214.72 361.33L215.18 361.34L215.63 361.34L216.08 361.35L216.53 361.37L216.99 361.38L217.44 361.39L217.89 361.40L218.34 361.42L218.80 361.43L219.25 361.45L219.70 361.47L220.16 361.49L220.61 361.51L221.06 361.53L221.51 361.56L221.97 361.58L222.42 361.61L222.87 361.64L223.33 361.68L223.78 361.71L224.23 361.75L224.68 361.79L225.14 361.83L225.59 361.88L226.04 361.93L226.49 361.98L226.95 362.04L227.40 362.11L227.85 362.17L228.31 362.24L228.76 362.32L229.21 362.40L229.66 362.49L230.12 362.58L230.57 362.68L231.02 362.79L231.48 362.90L231.93 363.03L232.38 363.16L232.83 363.30L233.29 363.44L233.74 363.60L234.19 363.77L234.64 363.94L235.10 364.13L235.55 364.33L236.00 364.54L236.46 364.77L236.91 365.00L237.36 365.25L237.81 365.51L238.27 365.79L238.72 366.09L239.17 366.39L239.63 366.72L240.08 367.06L240.53 367.41L240.98 367.79L241.44 368.18L241.89 368.58L242.34 369.01L242.79 369.45L243.25 369.91L243.70 370.39L244.15 370.88L244.61 371.40L245.06 371.93L245.51 372.48L245.96 373.04L246.42 373.63L246.87 374.23L247.32 374.85L247.77 375.48L248.23 376.14L248.68 376.80L249.13 377.49L249.59 378.18L250.04 378.90L250.49 379.63L250.94 380.37L251.40 381.12L251.85 381.89L252.30 382.67L252.76 383.46L253.21 384.27L253.66 385.08L254.11 385.91L254.57 386.74L255.02 387.59L255.47 388.45L255.92 389.31L256.38 390.18L256.83 391.07L257.28 391.96L257.74 392.85L258.19 393.76L258.64 394.67L259.09 395.59L259.55 396.51L260.00 397.44L260.45 398.38L260.91 399.32L261.36 400.27L261.81 401.22L262.26 402.18L262.72 403.14L263.17 404.11L263.62 405.08L264.07 406.05L264.53 407.03L264.98 408.02L265.43 409.00L265.89 410.00L266.34 410.99L266.79 411.99L267.24 412.99L267.70 414.00L268.15 415.01L268.60 416.02L269.06 417.04L269.51 418.06L269.96 419.09L270.41 420.11L270.87 421.14L271.32 422.18L271.77 423.21L272.22 424.26L272.68 425.30L273.13 426.35L273.58 427.40L274.04 428.45L274.49 429.51L274.94 430.57L275.39 431.63L275.85 432.70L276.30 433.77L276.75 434.84L277.20 435.92L277.66 437.00L278.11 438.09L278.56 439.18L279.02 440.27L279.47 441.36L279.92 442.46L280.37 443.57L280.83 444.67L281.28 445.79L281.73 446.90L282.19 448.02L282.64 449.14L283.09 450.27L283.54 451.40L284.00 452.54L284.45 453.68L284.90 454.82L285.35 455.97L285.81 457.13L286.26 458.29L286.71 459.45L287.17 460.62L287.62 461.79L288.07 462.97L288.52 464.15L288.98 465.34L289.43 466.53L289.88 467.73L290.34 468.93L290.79 470.14L291.24 471.35L291.69 472.57L292.15 473.80L292.60 475.03L293.05 476.27L293.50 477.51L293.96 478.76L294.41 480.02L294.86 481.28L295.32 482.55L295.77 483.83L296.22 485.11L296.67 486.40L297.13 487.69L297.58 489.00L298.03 490.31L298.49 491.62L298.94 492.95L299.39 494.28L299.84 495.62L300.30 496.97L300.75 498.33L301.20 499.69L301.65 501.06L302.11 502.44L302.56 503.83L303.01 505.23L303.47 506.64L303.92 508.06L304.37 509.48L304.82 510.92L305.28 512.36L305.73 513.82" stroke="#e48001" stroke-dasharray="11.46 4.95"/>
</g>
<rect x="116" y="346" width="255" height="137" fill="none" stroke="#000" stroke-width="1.800"/>
<text class="t" x="127.79" y="513.90" text-anchor="middle">0.0</text>
<text class="t" x="243.70" y="513.90" text-anchor="middle">0.5</text>
<text class="t" x="359.61" y="513.90" text-anchor="middle">1.0</text>
<text class="t" x="102.00" y="369.40" text-anchor="end">0</text>
<text class="t" x="102.00" y="430.40" text-anchor="end">−20</text>
<text class="t" x="102.00" y="491.40" text-anchor="end">−40</text>
<text class="h" x="243.70" y="333.60" text-anchor="middle">Chebyshev1, 8</text>
</g>
<g>
<path d="M472 346V483M588 346V483M704 346V483M460 361H715M460 422H715" stroke="#b0b0b0" stroke-width="1.700" fill="none"/>
<path d="M472 483v7M588 483v7M704 483v7M460 361h-7M460 422h-7M460 483h-7" stroke="#000" stroke-width="1.800" fill="none"/>
<g clip-path="url(#c11)" fill="none" stroke-width="3.300" stroke-linejoin="round">
<path d="M471.89 361.22L472.34 361.22L472.80 361.22L473.25 361.22L473.70 361.22L474.15 361.22L474.61 361.23L475.06 361.23L475.51 361.23L475.97 361.23L476.42 361.23L476.87 361.23L477.32 361.23L477.78 361.24L478.23 361.24L478.68 361.24L479.14 361.24L479.59 361.25L480.04 361.25L480.49 361.25L480.95 361.26L481.40 361.26L481.85 361.26L482.30 361.27L482.76 361.27L483.21 361.28L483.66 361.28L484.12 361.28L484.57 361.29L485.02 361.29L485.47 361.30L485.93 361.30L486.38 361.31L486.83 361.32L487.29 361.32L487.74 361.33L488.19 361.33L488.64 361.34L489.10 361.35L489.55 361.35L490.00 361.36L490.45 361.37L490.91 361.37L491.36 361.38L491.81 361.39L492.27 361.40L492.72 361.40L493.17 361.41L493.62 361.42L494.08 361.43L494.53 361.44L494.98 361.45L495.43 361.46L495.89 361.46L496.34 361.47L496.79 361.48L497.25 361.49L497.70 361.50L498.15 361.51L498.60 361.52L499.06 361.53L499.51 361.55L499.96 361.56L500.42 361.57L500.87 361.58L501.32 361.59L501.77 361.60L502.23 361.61L502.68 361.63L503.13 361.64L503.58 361.65L504.04 361.66L504.49 361.68L504.94 361.69L505.40 361.70L505.85 361.72L506.30 361.73L506.75 361.74L507.21 361.76L507.66 361.77L508.11 361.79L508.57 361.80L509.02 361.82L509.47 361.83L509.92 361.85L510.38 361.86L510.83 361.88L511.28 361.90L511.73 361.91L512.19 361.93L512.64 361.95L513.09 361.96L513.55 361.98L514.00 362.00L514.45 362.02L514.90 362.03L515.36 362.05L515.81 362.07L516.26 362.09L516.72 362.11L517.17 362.13L517.62 362.15L518.07 362.17L518.53 362.19L518.98 362.21L519.43 362.23L519.88 362.25L520.34 362.27L520.79 362.29L521.24 362.31L521.70 362.33L522.15 362.36L522.60 362.38L523.05 362.40L523.51 362.42L523.96 362.45L524.41 362.47L524.86 362.49L525.32 362.52L525.77 362.54L526.22 362.57L526.68 362.59L527.13 362.62L527.58 362.64L528.03 362.67L528.49 362.69L528.94 362.72L529.39 362.75L529.85 362.77L530.30 362.80L530.75 362.83L531.20 362.85L531.66 362.88L532.11 362.91L532.56 362.94L533.01 362.97L533.47 363.00L533.92 363.03L534.37 363.06L534.83 363.09L535.28 363.12L535.73 363.15L536.18 363.18L536.64 363.21L537.09 363.25L537.54 363.28L538.00 363.31L538.45 363.34L538.90 363.38L539.35 363.41L539.81 363.45L540.26 363.48L540.71 363.51L541.16 363.55L541.62 363.59L542.07 363.62L542.52 363.66L542.98 363.70L543.43 363.73L543.88 363.77L544.33 363.81L544.79 363.85L545.24 363.89L545.69 363.93L546.15 363.97L546.60 364.01L547.05 364.05L547.50 364.09L547.96 364.13L548.41 364.17L548.86 364.21L549.31 364.26L549.77 364.30L550.22 364.34L550.67 364.39L551.13 364.43L551.58 364.48L552.03 364.52L552.48 364.57L552.94 364.62L553.39 364.66L553.84 364.71L554.30 364.76L554.75 364.81L555.20 364.86L555.65 364.91L556.11 364.96L556.56 365.01L557.01 365.06L557.46 365.11L557.92 365.17L558.37 365.22L558.82 365.28L559.28 365.33L559.73 365.38L560.18 365.44L560.63 365.50L561.09 365.55L561.54 365.61L561.99 365.67L562.44 365.73L562.90 365.79L563.35 365.85L563.80 365.91L564.26 365.97L564.71 366.03L565.16 366.10L565.61 366.16L566.07 366.22L566.52 366.29L566.97 366.36L567.43 366.42L567.88 366.49L568.33 366.56L568.78 366.63L569.24 366.70L569.69 366.77L570.14 366.84L570.59 366.91L571.05 366.98L571.50 367.06L571.95 367.13L572.41 367.21L572.86 367.28L573.31 367.36L573.76 367.44L574.22 367.52L574.67 367.60L575.12 367.68L575.58 367.76L576.03 367.84L576.48 367.93L576.93 368.01L577.39 368.10L577.84 368.18L578.29 368.27L578.74 368.36L579.20 368.45L579.65 368.54L580.10 368.63L580.56 368.73L581.01 368.82L581.46 368.92L581.91 369.01L582.37 369.11L582.82 369.21L583.27 369.31L583.73 369.41L584.18 369.52L584.63 369.62L585.08 369.73L585.54 369.83L585.99 369.94L586.44 370.05L586.89 370.16L587.35 370.27L587.80 370.39L588.25 370.50L588.71 370.62L589.16 370.74L589.61 370.86L590.06 370.98L590.52 371.10L590.97 371.23L591.42 371.35L591.87 371.48L592.33 371.61L592.78 371.74L593.23 371.87L593.69 372.01L594.14 372.14L594.59 372.28L595.04 372.42L595.50 372.56L595.95 372.71L596.40 372.85L596.86 373.00L597.31 373.15L597.76 373.30L598.21 373.46L598.67 373.62L599.12 373.77L599.57 373.93L600.02 374.10L600.48 374.26L600.93 374.43L601.38 374.60L601.84 374.77L602.29 374.95L602.74 375.13L603.19 375.31L603.65 375.49L604.10 375.68L604.55 375.86L605.01 376.06L605.46 376.25L605.91 376.45L606.36 376.65L606.82 376.85L607.27 377.06L607.72 377.27L608.17 377.48L608.63 377.69L609.08 377.91L609.53 378.14L609.99 378.36L610.44 378.59L610.89 378.83L611.34 379.06L611.80 379.30L612.25 379.55L612.70 379.80L613.16 380.05L613.61 380.31L614.06 380.57L614.51 380.84L614.97 381.11L615.42 381.38L615.87 381.66L616.32 381.95L616.78 382.23L617.23 382.53L617.68 382.83L618.14 383.13L618.59 383.44L619.04 383.76L619.49 384.08L619.95 384.41L620.40 384.74L620.85 385.08L621.30 385.42L621.76 385.77L622.21 386.13L622.66 386.50L623.12 386.87L623.57 387.25L624.02 387.63L624.47 388.03L624.93 388.43L625.38 388.84L625.83 389.25L626.29 389.68L626.74 390.11L627.19 390.55L627.64 391.01L628.10 391.47L628.55 391.94L629.00 392.42L629.45 392.91L629.91 393.41L630.36 393.92L630.81 394.45L631.27 394.98L631.72 395.53L632.17 396.08L632.62 396.66L633.08 397.24L633.53 397.84L633.98 398.45L634.44 399.08L634.89 399.72L635.34 400.38L635.79 401.05L636.25 401.74L636.70 402.44L637.15 403.17L637.60 403.91L638.06 404.68L638.51 405.46L638.96 406.26L639.42 407.09L639.87 407.94L640.32 408.81L640.77 409.70L641.23 410.62L641.68 411.57L642.13 412.55L642.59 413.55L643.04 414.58L643.49 415.65L643.94 416.74L644.40 417.87L644.85 419.04L645.30 420.24L645.75 421.48L646.21 422.76L646.66 424.08L647.11 425.44L647.57 426.85L648.02 428.30L648.47 429.79L648.92 431.34L649.38 432.93L649.83 434.58L650.28 436.27L650.74 438.02L651.19 439.83L651.64 441.69L652.09 443.60L652.55 445.58L653.00 447.61L653.45 449.70L653.90 451.84L654.36 454.05L654.81 456.32L655.26 458.64L655.72 461.03L656.17 463.47L656.62 465.98L657.07 468.54L657.53 471.16L657.98 473.84L658.43 476.58L658.88 479.38L659.34 482.23L659.79 485.15L660.24 488.11L660.70 491.14L661.15 494.22L661.60 497.35L662.05 500.54L662.51 503.79L662.96 507.09L663.41 510.44L663.87 513.85" stroke="#000" stroke-linecap="square"/>
<path d="M471.89 361.22L472.34 361.22L472.80 361.22L473.25 361.22L473.70 361.22L474.15 361.22L474.61 361.22L475.06 361.22L475.51 361.22L475.97 361.22L476.42 361.22L476.87 361.22L477.32 361.22L477.78 361.22L478.23 361.22L478.68 361.22L479.14 361.22L479.59 361.22L480.04 361.22L480.49 361.22L480.95 361.22L481.40 361.22L481.85 361.22L482.30 361.22L482.76 361.22L483.21 361.22L483.66 361.22L484.12 361.22L484.57 361.22L485.02 361.22L485.47 361.22L485.93 361.22L486.38 361.22L486.83 361.22L487.29 361.22L487.74 361.22L488.19 361.22L488.64 361.22L489.10 361.22L489.55 361.22L490.00 361.22L490.45 361.22L490.91 361.22L491.36 361.22L491.81 361.22L492.27 361.22L492.72 361.22L493.17 361.22L493.62 361.22L494.08 361.22L494.53 361.22L494.98 361.22L495.43 361.22L495.89 361.22L496.34 361.22L496.79 361.22L497.25 361.22L497.70 361.22L498.15 361.22L498.60 361.22L499.06 361.22L499.51 361.22L499.96 361.22L500.42 361.22L500.87 361.22L501.32 361.22L501.77 361.22L502.23 361.22L502.68 361.22L503.13 361.22L503.58 361.22L504.04 361.22L504.49 361.22L504.94 361.22L505.40 361.22L505.85 361.22L506.30 361.22L506.75 361.22L507.21 361.22L507.66 361.22L508.11 361.22L508.57 361.22L509.02 361.22L509.47 361.22L509.92 361.22L510.38 361.22L510.83 361.22L511.28 361.22L511.73 361.22L512.19 361.22L512.64 361.22L513.09 361.22L513.55 361.22L514.00 361.22L514.45 361.22L514.90 361.22L515.36 361.22L515.81 361.22L516.26 361.22L516.72 361.22L517.17 361.22L517.62 361.22L518.07 361.22L518.53 361.22L518.98 361.22L519.43 361.22L519.88 361.22L520.34 361.22L520.79 361.22L521.24 361.22L521.70 361.22L522.15 361.22L522.60 361.22L523.05 361.22L523.51 361.22L523.96 361.22L524.41 361.22L524.86 361.22L525.32 361.22L525.77 361.22L526.22 361.22L526.68 361.22L527.13 361.22L527.58 361.22L528.03 361.22L528.49 361.22L528.94 361.22L529.39 361.22L529.85 361.22L530.30 361.22L530.75 361.22L531.20 361.22L531.66 361.22L532.11 361.22L532.56 361.22L533.01 361.22L533.47 361.22L533.92 361.22L534.37 361.22L534.83 361.22L535.28 361.22L535.73 361.22L536.18 361.22L536.64 361.22L537.09 361.22L537.54 361.22L538.00 361.22L538.45 361.22L538.90 361.22L539.35 361.22L539.81 361.23L540.26 361.23L540.71 361.23L541.16 361.23L541.62 361.23L542.07 361.23L542.52 361.23L542.98 361.23L543.43 361.23L543.88 361.23L544.33 361.23L544.79 361.23L545.24 361.23L545.69 361.23L546.15 361.23L546.60 361.23L547.05 361.23L547.50 361.24L547.96 361.24L548.41 361.24L548.86 361.24L549.31 361.24L549.77 361.24L550.22 361.24L550.67 361.25L551.13 361.25L551.58 361.25L552.03 361.25L552.48 361.26L552.94 361.26L553.39 361.26L553.84 361.27L554.30 361.27L554.75 361.27L555.20 361.28L555.65 361.28L556.11 361.29L556.56 361.29L557.01 361.30L557.46 361.30L557.92 361.31L558.37 361.32L558.82 361.33L559.28 361.34L559.73 361.34L560.18 361.35L560.63 361.37L561.09 361.38L561.54 361.39L561.99 361.40L562.44 361.42L562.90 361.43L563.35 361.45L563.80 361.47L564.26 361.49L564.71 361.51L565.16 361.53L565.61 361.56L566.07 361.58L566.52 361.61L566.97 361.64L567.43 361.68L567.88 361.71L568.33 361.75L568.78 361.79L569.24 361.83L569.69 361.88L570.14 361.93L570.59 361.98L571.05 362.04L571.50 362.11L571.95 362.17L572.41 362.24L572.86 362.32L573.31 362.40L573.76 362.49L574.22 362.58L574.67 362.68L575.12 362.79L575.58 362.90L576.03 363.03L576.48 363.16L576.93 363.30L577.39 363.44L577.84 363.60L578.29 363.77L578.74 363.94L579.20 364.13L579.65 364.33L580.10 364.54L580.56 364.77L581.01 365.00L581.46 365.25L581.91 365.51L582.37 365.79L582.82 366.09L583.27 366.39L583.73 366.72L584.18 367.06L584.63 367.41L585.08 367.79L585.54 368.18L585.99 368.58L586.44 369.01L586.89 369.45L587.35 369.91L587.80 370.39L588.25 370.88L588.71 371.40L589.16 371.93L589.61 372.48L590.06 373.04L590.52 373.63L590.97 374.23L591.42 374.85L591.87 375.48L592.33 376.14L592.78 376.80L593.23 377.49L593.69 378.18L594.14 378.90L594.59 379.63L595.04 380.37L595.50 381.12L595.95 381.89L596.40 382.67L596.86 383.46L597.31 384.27L597.76 385.08L598.21 385.91L598.67 386.74L599.12 387.59L599.57 388.45L600.02 389.31L600.48 390.18L600.93 391.07L601.38 391.96L601.84 392.85L602.29 393.76L602.74 394.67L603.19 395.59L603.65 396.51L604.10 397.44L604.55 398.38L605.01 399.32L605.46 400.27L605.91 401.22L606.36 402.18L606.82 403.14L607.27 404.11L607.72 405.08L608.17 406.05L608.63 407.03L609.08 408.02L609.53 409.00L609.99 410.00L610.44 410.99L610.89 411.99L611.34 412.99L611.80 414.00L612.25 415.01L612.70 416.02L613.16 417.04L613.61 418.06L614.06 419.09L614.51 420.11L614.97 421.14L615.42 422.18L615.87 423.21L616.32 424.26L616.78 425.30L617.23 426.35L617.68 427.40L618.14 428.45L618.59 429.51L619.04 430.57L619.49 431.63L619.95 432.70L620.40 433.77L620.85 434.84L621.30 435.92L621.76 437.00L622.21 438.09L622.66 439.18L623.12 440.27L623.57 441.36L624.02 442.46L624.47 443.57L624.93 444.67L625.38 445.79L625.83 446.90L626.29 448.02L626.74 449.14L627.19 450.27L627.64 451.40L628.10 452.54L628.55 453.68L629.00 454.82L629.45 455.97L629.91 457.13L630.36 458.29L630.81 459.45L631.27 460.62L631.72 461.79L632.17 462.97L632.62 464.15L633.08 465.34L633.53 466.53L633.98 467.73L634.44 468.93L634.89 470.14L635.34 471.35L635.79 472.57L636.25 473.80L636.70 475.03L637.15 476.27L637.60 477.51L638.06 478.76L638.51 480.02L638.96 481.28L639.42 482.55L639.87 483.83L640.32 485.11L640.77 486.40L641.23 487.69L641.68 489.00L642.13 490.31L642.59 491.62L643.04 492.95L643.49 494.28L643.94 495.62L644.40 496.97L644.85 498.33L645.30 499.69L645.75 501.06L646.21 502.44L646.66 503.83L647.11 505.23L647.57 506.64L648.02 508.06L648.47 509.48L648.92 510.92L649.38 512.36L649.83 513.82" stroke="#e48001" stroke-dasharray="11.46 4.95"/>
</g>
<rect x="460" y="346" width="255" height="137" fill="none" stroke="#000" stroke-width="1.800"/>
<text class="t" x="471.89" y="513.90" text-anchor="middle">0.0</text>
<text class="t" x="587.80" y="513.90" text-anchor="middle">0.5</text>
<text class="t" x="703.71" y="513.90" text-anchor="middle">1.0</text>
<text class="t" x="446.10" y="369.40" text-anchor="end">0</text>
<text class="t" x="446.10" y="430.40" text-anchor="end">−20</text>
<text class="t" x="446.10" y="491.40" text-anchor="end">−40</text>
<text class="h" x="587.80" y="333.60" text-anchor="middle">Bessel, 12</text>
</g>
<g>
<path d="M128 585V722M244 585V722M360 585V722M116 600H371M116 661H371" stroke="#b0b0b0" stroke-width="1.700" fill="none"/>
<path d="M128 722v7M244 722v7M360 722v7M116 600h-7M116 661h-7M116 722h-7" stroke="#000" stroke-width="1.800" fill="none"/>
<g clip-path="url(#c20)" fill="none" stroke-width="3.300" stroke-linejoin="round">
<path d="M127.79 600.37L128.24 600.37L128.70 600.37L129.15 600.37L129.60 600.37L130.05 600.37L130.51 600.37L130.96 600.37L131.41 600.37L131.87 600.36L132.32 600.36L132.77 600.36L133.22 600.35L133.68 600.35L134.13 600.35L134.58 600.34L135.04 600.34L135.49 600.34L135.94 600.33L136.39 600.33L136.85 600.32L137.30 600.32L137.75 600.31L138.20 600.31L138.66 600.31L139.11 600.30L139.56 600.30L140.02 600.29L140.47 600.29L140.92 600.28L141.37 600.28L141.83 600.27L142.28 600.27L142.73 600.26L143.19 600.26L143.64 600.26L144.09 600.25L144.54 600.25L145.00 600.25L145.45 600.24L145.90 600.24L146.35 600.24L146.81 600.23L147.26 600.23L147.71 600.23L148.17 600.23L148.62 600.23L149.07 600.22L149.52 600.22L149.98 600.22L150.43 600.22L150.88 600.22L151.33 600.22L151.79 600.22L152.24 600.22L152.69 600.23L153.15 600.23L153.60 600.23L154.05 600.23L154.50 600.23L154.96 600.24L155.41 600.24L155.86 600.24L156.32 600.25L156.77 600.25L157.22 600.25L157.67 600.26L158.13 600.26L158.58 600.27L159.03 600.27L159.48 600.27L159.94 600.28L160.39 600.28L160.84 600.29L161.30 600.29L161.75 600.30L162.20 600.30L162.65 600.31L163.11 600.31L163.56 600.32L164.01 600.32L164.47 600.33L164.92 600.33L165.37 600.34L165.82 600.34L166.28 600.35L166.73 600.35L167.18 600.35L167.63 600.36L168.09 600.36L168.54 600.36L168.99 600.37L169.45 600.37L169.90 600.37L170.35 600.37L170.80 600.37L171.26 600.37L171.71 600.37L172.16 600.37L172.62 600.37L173.07 600.37L173.52 600.37L173.97 600.37L174.43 600.37L174.88 600.37L175.33 600.36L175.78 600.36L176.24 600.36L176.69 600.35L177.14 600.35L177.60 600.35L178.05 600.34L178.50 600.34L178.95 600.33L179.41 600.33L179.86 600.32L180.31 600.32L180.76 600.31L181.22 600.31L181.67 600.30L182.12 600.29L182.58 600.29L183.03 600.28L183.48 600.28L183.93 600.27L184.39 600.27L184.84 600.26L185.29 600.25L185.75 600.25L186.20 600.25L186.65 600.24L187.10 600.24L187.56 600.23L188.01 600.23L188.46 600.23L188.91 600.23L189.37 600.22L189.82 600.22L190.27 600.22L190.73 600.22L191.18 600.22L191.63 600.22L192.08 600.22L192.54 600.23L192.99 600.23L193.44 600.23L193.90 600.24L194.35 600.24L194.80 600.24L195.25 600.25L195.71 600.25L196.16 600.26L196.61 600.27L197.06 600.27L197.52 600.28L197.97 600.29L198.42 600.29L198.88 600.30L199.33 600.31L199.78 600.31L200.23 600.32L200.69 600.33L201.14 600.33L201.59 600.34L202.05 600.35L202.50 600.35L202.95 600.36L203.40 600.36L203.86 600.36L204.31 600.37L204.76 600.37L205.21 600.37L205.67 600.37L206.12 600.37L206.57 600.37L207.03 600.37L207.48 600.37L207.93 600.37L208.38 600.37L208.84 600.36L209.29 600.36L209.74 600.35L210.20 600.34L210.65 600.34L211.10 600.33L211.55 600.32L212.01 600.31L212.46 600.31L212.91 600.30L213.36 600.29L213.82 600.28L214.27 600.27L214.72 600.26L215.18 600.25L215.63 600.25L216.08 600.24L216.53 600.24L216.99 600.23L217.44 600.23L217.89 600.22L218.34 600.22L218.80 600.22L219.25 600.22L219.70 600.23L220.16 600.23L220.61 600.23L221.06 600.24L221.51 600.25L221.97 600.26L222.42 600.27L222.87 600.28L223.33 600.29L223.78 600.30L224.23 600.31L224.68 600.32L225.14 600.33L225.59 600.34L226.04 600.35L226.49 600.36L226.95 600.37L227.40 600.37L227.85 600.37L228.31 600.37L228.76 600.37L229.21 600.37L229.66 600.36L230.12 600.35L230.57 600.34L231.02 600.33L231.48 600.32L231.93 600.30L232.38 600.29L232.83 600.27L233.29 600.26L233.74 600.24L234.19 600.23L234.64 600.23L235.10 600.22L235.55 600.22L236.00 600.23L236.46 600.24L236.91 600.26L237.36 600.27L237.81 600.30L238.27 600.32L238.72 600.34L239.17 600.36L239.63 600.37L240.08 600.37L240.53 600.37L240.98 600.35L241.44 600.31L241.89 600.28L242.34 600.24L242.79 600.22L243.25 600.25L243.70 600.37L244.15 600.65L244.61 601.15L245.06 601.98L245.51 603.21L245.96 604.92L246.42 607.14L246.87 609.83L247.32 612.92L247.77 616.33L248.23 619.95L248.68 623.70L249.13 627.52L249.59 631.36L250.04 635.18L250.49 638.96L250.94 642.69L251.40 646.36L251.85 649.97L252.30 653.52L252.76 657.00L253.21 660.42L253.66 663.79L254.11 667.09L254.57 670.35L255.02 673.55L255.47 676.70L255.92 679.81L256.38 682.87L256.83 685.89L257.28 688.87L257.74 691.82L258.19 694.73L258.64 697.60L259.09 700.45L259.55 703.26L260.00 706.05L260.45 708.81L260.91 711.54L261.36 714.25L261.81 716.94L262.26 719.60L262.72 722.25L263.17 724.87L263.62 727.47L264.07 730.06L264.53 732.63L264.98 735.18L265.43 737.71L265.89 740.23L266.34 742.74L266.79 745.23L267.24 747.71L267.70 750.18L268.15 752.63" stroke="#000" stroke-linecap="square"/>
<path d="M127.79 600.22L128.24 600.22L128.70 600.22L129.15 600.22L129.60 600.22L130.05 600.22L130.51 600.22L130.96 600.22L131.41 600.22L131.87 600.22L132.32 600.22L132.77 600.22L133.22 600.22L133.68 600.22L134.13 600.22L134.58 600.22L135.04 600.22L135.49 600.22L135.94 600.22L136.39 600.22L136.85 600.22L137.30 600.22L137.75 600.22L138.20 600.22L138.66 600.22L139.11 600.22L139.56 600.22L140.02 600.22L140.47 600.22L140.92 600.22L141.37 600.22L141.83 600.22L142.28 600.22L142.73 600.22L143.19 600.22L143.64 600.22L144.09 600.22L144.54 600.22L145.00 600.22L145.45 600.22L145.90 600.22L146.35 600.22L146.81 600.22L147.26 600.22L147.71 600.22L148.17 600.22L148.62 600.22L149.07 600.22L149.52 600.22L149.98 600.22L150.43 600.22L150.88 600.22L151.33 600.22L151.79 600.22L152.24 600.22L152.69 600.22L153.15 600.22L153.60 600.22L154.05 600.22L154.50 600.22L154.96 600.22L155.41 600.22L155.86 600.22L156.32 600.22L156.77 600.22L157.22 600.22L157.67 600.22L158.13 600.22L158.58 600.22L159.03 600.22L159.48 600.22L159.94 600.22L160.39 600.22L160.84 600.22L161.30 600.22L161.75 600.22L162.20 600.22L162.65 600.22L163.11 600.22L163.56 600.22L164.01 600.22L164.47 600.22L164.92 600.22L165.37 600.22L165.82 600.22L166.28 600.22L166.73 600.22L167.18 600.22L167.63 600.22L168.09 600.22L168.54 600.22L168.99 600.22L169.45 600.22L169.90 600.22L170.35 600.22L170.80 600.22L171.26 600.22L171.71 600.22L172.16 600.22L172.62 600.22L173.07 600.22L173.52 600.22L173.97 600.22L174.43 600.22L174.88 600.22L175.33 600.22L175.78 600.22L176.24 600.22L176.69 600.22L177.14 600.22L177.60 600.22L178.05 600.22L178.50 600.22L178.95 600.22L179.41 600.22L179.86 600.22L180.31 600.22L180.76 600.22L181.22 600.22L181.67 600.22L182.12 600.22L182.58 600.22L183.03 600.22L183.48 600.22L183.93 600.22L184.39 600.22L184.84 600.22L185.29 600.22L185.75 600.22L186.20 600.22L186.65 600.22L187.10 600.22L187.56 600.22L188.01 600.22L188.46 600.22L188.91 600.22L189.37 600.22L189.82 600.22L190.27 600.22L190.73 600.22L191.18 600.22L191.63 600.22L192.08 600.22L192.54 600.22L192.99 600.22L193.44 600.22L193.90 600.22L194.35 600.22L194.80 600.22L195.25 600.22L195.71 600.23L196.16 600.23L196.61 600.23L197.06 600.23L197.52 600.23L197.97 600.23L198.42 600.23L198.88 600.23L199.33 600.23L199.78 600.23L200.23 600.23L200.69 600.23L201.14 600.23L201.59 600.23L202.05 600.23L202.50 600.23L202.95 600.23L203.40 600.24L203.86 600.24L204.31 600.24L204.76 600.24L205.21 600.24L205.67 600.24L206.12 600.24L206.57 600.25L207.03 600.25L207.48 600.25L207.93 600.25L208.38 600.26L208.84 600.26L209.29 600.26L209.74 600.27L210.20 600.27L210.65 600.27L211.10 600.28L211.55 600.28L212.01 600.29L212.46 600.29L212.91 600.30L213.36 600.30L213.82 600.31L214.27 600.32L214.72 600.33L215.18 600.34L215.63 600.34L216.08 600.35L216.53 600.37L216.99 600.38L217.44 600.39L217.89 600.40L218.34 600.42L218.80 600.43L219.25 600.45L219.70 600.47L220.16 600.49L220.61 600.51L221.06 600.53L221.51 600.56L221.97 600.58L222.42 600.61L222.87 600.64L223.33 600.68L223.78 600.71L224.23 600.75L224.68 600.79L225.14 600.83L225.59 600.88L226.04 600.93L226.49 600.98L226.95 601.04L227.40 601.11L227.85 601.17L228.31 601.24L228.76 601.32L229.21 601.40L229.66 601.49L230.12 601.58L230.57 601.68L231.02 601.79L231.48 601.90L231.93 602.03L232.38 602.16L232.83 602.30L233.29 602.44L233.74 602.60L234.19 602.77L234.64 602.94L235.10 603.13L235.55 603.33L236.00 603.54L236.46 603.77L236.91 604.00L237.36 604.25L237.81 604.51L238.27 604.79L238.72 605.09L239.17 605.39L239.63 605.72L240.08 606.06L240.53 606.41L240.98 606.79L241.44 607.18L241.89 607.58L242.34 608.01L242.79 608.45L243.25 608.91L243.70 609.39L244.15 609.88L244.61 610.40L245.06 610.93L245.51 611.48L245.96 612.04L246.42 612.63L246.87 613.23L247.32 613.85L247.77 614.48L248.23 615.14L248.68 615.80L249.13 616.49L249.59 617.18L250.04 617.90L250.49 618.63L250.94 619.37L251.40 620.12L251.85 620.89L252.30 621.67L252.76 622.46L253.21 623.27L253.66 624.08L254.11 624.91L254.57 625.74L255.02 626.59L255.47 627.45L255.92 628.31L256.38 629.18L256.83 630.07L257.28 630.96L257.74 631.85L258.19 632.76L258.64 633.67L259.09 634.59L259.55 635.51L260.00 636.44L260.45 637.38L260.91 638.32L261.36 639.27L261.81 640.22L262.26 641.18L262.72 642.14L263.17 643.11L263.62 644.08L264.07 645.05L264.53 646.03L264.98 647.02L265.43 648.00L265.89 649.00L266.34 649.99L266.79 650.99L267.24 651.99L267.70 653.00L268.15 654.01L268.60 655.02L269.06 656.04L269.51 657.06L269.96 658.09L270.41 659.11L270.87 660.14L271.32 661.18L271.77 662.21L272.22 663.26L272.68 664.30L273.13 665.35L273.58 666.40L274.04 667.45L274.49 668.51L274.94 669.57L275.39 670.63L275.85 671.70L276.30 672.77L276.75 673.84L277.20 674.92L277.66 676.00L278.11 677.09L278.56 678.18L279.02 679.27L279.47 680.36L279.92 681.46L280.37 682.57L280.83 683.67L281.28 684.79L281.73 685.90L282.19 687.02L282.64 688.14L283.09 689.27L283.54 690.40L284.00 691.54L284.45 692.68L284.90 693.82L285.35 694.97L285.81 696.13L286.26 697.29L286.71 698.45L287.17 699.62L287.62 700.79L288.07 701.97L288.52 703.15L288.98 704.34L289.43 705.53L289.88 706.73L290.34 707.93L290.79 709.14L291.24 710.35L291.69 711.57L292.15 712.80L292.60 714.03L293.05 715.27L293.50 716.51L293.96 717.76L294.41 719.02L294.86 720.28L295.32 721.55L295.77 722.83L296.22 724.11L296.67 725.40L297.13 726.69L297.58 728.00L298.03 729.31L298.49 730.62L298.94 731.95L299.39 733.28L299.84 734.62L300.30 735.97L300.75 737.33L301.20 738.69L301.65 740.06L302.11 741.44L302.56 742.83L303.01 744.23L303.47 745.64L303.92 747.06L304.37 748.48L304.82 749.92L305.28 751.36L305.73 752.82" stroke="#e48001" stroke-dasharray="11.46 4.95"/>
</g>
<rect x="116" y="585" width="255" height="137" fill="none" stroke="#000" stroke-width="1.800"/>
<text class="t" x="127.79" y="752.90" text-anchor="middle">0.0</text>
<text class="t" x="243.70" y="752.90" text-anchor="middle">0.5</text>
<text class="t" x="359.61" y="752.90" text-anchor="middle">1.0</text>
<text class="t" x="102.00" y="608.40" text-anchor="end">0</text>
<text class="t" x="102.00" y="669.40" text-anchor="end">−20</text>
<text class="t" x="102.00" y="730.40" text-anchor="end">−40</text>
<text class="h" x="243.70" y="572.60" text-anchor="middle">Chebyshev1, 10</text>
</g>
<g>
<path d="M472 585V722M588 585V722M704 585V722M460 600H715M460 661H715" stroke="#b0b0b0" stroke-width="1.700" fill="none"/>
<path d="M472 722v7M588 722v7M704 722v7M460 600h-7M460 661h-7M460 722h-7" stroke="#000" stroke-width="1.800" fill="none"/>
<g clip-path="url(#c21)" fill="none" stroke-width="3.300" stroke-linejoin="round">
<path d="M471.89 600.37L472.34 600.37L472.80 600.37L473.25 600.37L473.70 600.37L474.15 600.37L474.61 600.37L475.06 600.37L475.51 600.37L475.97 600.37L476.42 600.37L476.87 600.37L477.32 600.37L477.78 600.37L478.23 600.37L478.68 600.37L479.14 600.37L479.59 600.37L480.04 600.37L480.49 600.37L480.95 600.37L481.40 600.37L481.85 600.37L482.30 600.37L482.76 600.37L483.21 600.37L483.66 600.37L484.12 600.37L484.57 600.36L485.02 600.36L485.47 600.36L485.93 600.36L486.38 600.36L486.83 600.36L487.29 600.36L487.74 600.36L488.19 600.36L488.64 600.36L489.10 600.36L489.55 600.36L490.00 600.35L490.45 600.35L490.91 600.35L491.36 600.35L491.81 600.35L492.27 600.35L492.72 600.35L493.17 600.35L493.62 600.35L494.08 600.35L494.53 600.34L494.98 600.34L495.43 600.34L495.89 600.34L496.34 600.34L496.79 600.34L497.25 600.34L497.70 600.34L498.15 600.33L498.60 600.33L499.06 600.33L499.51 600.33L499.96 600.33L500.42 600.33L500.87 600.33L501.32 600.32L501.77 600.32L502.23 600.32L502.68 600.32L503.13 600.32L503.58 600.32L504.04 600.32L504.49 600.31L504.94 600.31L505.40 600.31L505.85 600.31L506.30 600.31L506.75 600.31L507.21 600.31L507.66 600.30L508.11 600.30L508.57 600.30L509.02 600.30L509.47 600.30L509.92 600.30L510.38 600.29L510.83 600.29L511.28 600.29L511.73 600.29L512.19 600.29L512.64 600.29L513.09 600.28L513.55 600.28L514.00 600.28L514.45 600.28L514.90 600.28L515.36 600.28L515.81 600.27L516.26 600.27L516.72 600.27L517.17 600.27L517.62 600.27L518.07 600.27L518.53 600.27L518.98 600.26L519.43 600.26L519.88 600.26L520.34 600.26L520.79 600.26L521.24 600.26L521.70 600.25L522.15 600.25L522.60 600.25L523.05 600.25L523.51 600.25L523.96 600.25L524.41 600.25L524.86 600.25L525.32 600.24L525.77 600.24L526.22 600.24L526.68 600.24L527.13 600.24L527.58 600.24L528.03 600.24L528.49 600.24L528.94 600.23L529.39 600.23L529.85 600.23L530.30 600.23L530.75 600.23L531.20 600.23L531.66 600.23L532.11 600.23L532.56 600.23L533.01 600.23L533.47 600.23L533.92 600.23L534.37 600.22L534.83 600.22L535.28 600.22L535.73 600.22L536.18 600.22L536.64 600.22L537.09 600.22L537.54 600.22L538.00 600.22L538.45 600.22L538.90 600.22L539.35 600.22L539.81 600.22L540.26 600.22L540.71 600.22L541.16 600.22L541.62 600.22L542.07 600.22L542.52 600.23L542.98 600.23L543.43 600.23L543.88 600.23L544.33 600.23L544.79 600.23L545.24 600.23L545.69 600.23L546.15 600.23L546.60 600.23L547.05 600.24L547.50 600.24L547.96 600.24L548.41 600.24L548.86 600.24L549.31 600.24L549.77 600.25L550.22 600.25L550.67 600.25L551.13 600.25L551.58 600.26L552.03 600.26L552.48 600.26L552.94 600.26L553.39 600.27L553.84 600.27L554.30 600.27L554.75 600.27L555.20 600.28L555.65 600.28L556.11 600.28L556.56 600.29L557.01 600.29L557.46 600.29L557.92 600.30L558.37 600.30L558.82 600.30L559.28 600.31L559.73 600.31L560.18 600.32L560.63 600.32L561.09 600.32L561.54 600.33L561.99 600.33L562.44 600.33L562.90 600.34L563.35 600.34L563.80 600.34L564.26 600.35L564.71 600.35L565.16 600.35L565.61 600.36L566.07 600.36L566.52 600.36L566.97 600.37L567.43 600.37L567.88 600.37L568.33 600.37L568.78 600.37L569.24 600.37L569.69 600.37L570.14 600.37L570.59 600.37L571.05 600.37L571.50 600.37L571.95 600.37L572.41 600.37L572.86 600.37L573.31 600.36L573.76 600.36L574.22 600.35L574.67 600.35L575.12 600.34L575.58 600.34L576.03 600.33L576.48 600.32L576.93 600.31L577.39 600.30L577.84 600.29L578.29 600.28L578.74 600.27L579.20 600.26L579.65 600.25L580.10 600.24L580.56 600.24L581.01 600.23L581.46 600.22L581.91 600.22L582.37 600.22L582.82 600.23L583.27 600.24L583.73 600.26L584.18 600.28L584.63 600.30L585.08 600.33L585.54 600.36L585.99 600.37L586.44 600.36L586.89 600.31L587.35 600.23L587.80 600.37L588.25 602.54L588.71 615.85L589.16 674.48L589.61 643.84L590.06 633.12L590.52 630.74L590.97 631.23L591.42 633.31L591.87 636.59L592.33 640.99L592.78 646.66L593.23 654.03L593.69 664.07L594.14 679.64L594.59 717.28L595.04 699.69L595.50 676.52L595.95 665.17L596.40 657.85L596.86 652.60L597.31 648.61L597.76 645.47L598.21 642.93L598.67 640.85L599.12 639.11L599.57 637.66L600.02 636.43L600.48 635.39L600.93 634.51L601.38 633.76L601.84 633.12L602.29 632.58L602.74 632.13L603.19 631.75L603.65 631.44L604.10 631.19L604.55 631.00L605.01 630.85L605.46 630.75L605.91 630.69L606.36 630.67L606.82 630.68L607.27 630.72L607.72 630.80L608.17 630.90L608.63 631.03L609.08 631.18L609.53 631.36L609.99 631.57L610.44 631.79L610.89 632.04L611.34 632.30L611.80 632.59L612.25 632.90L612.70 633.23L613.16 633.57L613.61 633.94L614.06 634.32L614.51 634.72L614.97 635.14L615.42 635.58L615.87 636.04L616.32 636.51L616.78 637.01L617.23 637.52L617.68 638.05L618.14 638.60L618.59 639.17L619.04 639.76L619.49 640.37L619.95 641.01L620.40 641.66L620.85 642.34L621.30 643.04L621.76 643.76L622.21 644.51L622.66 645.29L623.12 646.09L623.57 646.92L624.02 647.78L624.47 648.67L624.93 649.60L625.38 650.56L625.83 651.55L626.29 652.59L626.74 653.67L627.19 654.80L627.64 655.97L628.10 657.20L628.55 658.48L629.00 659.83L629.45 661.25L629.91 662.74L630.36 664.32L630.81 665.99L631.27 667.77L631.72 669.67L632.17 671.70L632.62 673.90L633.08 676.28L633.53 678.88L633.98 681.76L634.44 684.96L634.89 688.58L635.34 692.76L635.79 697.68L636.25 703.68L636.70 711.40L637.15 722.26L637.60 740.80L638.06 867.24L638.51 740.56L638.96 722.44L639.42 711.86L639.87 704.38L640.32 698.60L640.77 693.90L641.23 689.93L641.68 686.52L642.13 683.52L642.59 680.85L643.04 678.45L643.49 676.27L643.94 674.27L644.40 672.43L644.85 670.73L645.30 669.14L645.75 667.66L646.21 666.28L646.66 664.97L647.11 663.74L647.57 662.58L648.02 661.48L648.47 660.43L648.92 659.43L649.38 658.48L649.83 657.58L650.28 656.71L650.74 655.88L651.19 655.08L651.64 654.32L652.09 653.59L652.55 652.88L653.00 652.21L653.45 651.55L653.90 650.92L654.36 650.32L654.81 649.73L655.26 649.16L655.72 648.61L656.17 648.08L656.62 647.57L657.07 647.07L657.53 646.59L657.98 646.13L658.43 645.67L658.88 645.23L659.34 644.81L659.79 644.40L660.24 643.99L660.70 643.60L661.15 643.22L661.60 642.86L662.05 642.50L662.51 642.15L662.96 641.81L663.41 641.48L663.87 641.16L664.32 640.84L664.77 640.54L665.22 640.24L665.68 639.95L666.13 639.67L666.58 639.40L667.03 639.13L667.49 638.87L667.94 638.61L668.39 638.37L668.85 638.13L669.30 637.89L669.75 637.66L670.20 637.44L670.66 637.22L671.11 637.00L671.56 636.80L672.02 636.59L672.47 636.40L672.92 636.20L673.37 636.01L673.83 635.83L674.28 635.65L674.73 635.48L675.18 635.31L675.64 635.14L676.09 634.98L676.54 634.82L677.00 634.67L677.45 634.51L677.90 634.37L678.35 634.23L678.81 634.09L679.26 633.95L679.71 633.82L680.17 633.69L680.62 633.56L681.07 633.44L681.52 633.32L681.98 633.21L682.43 633.10L682.88 632.99L683.33 632.88L683.79 632.78L684.24 632.67L684.69 632.58L685.15 632.48L685.60 632.39L686.05 632.30L686.50 632.21L686.96 632.13L687.41 632.05L687.86 631.97L688.31 631.89L688.77 631.82L689.22 631.75L689.67 631.68L690.13 631.61L690.58 631.55L691.03 631.49L691.48 631.43L691.94 631.37L692.39 631.32L692.84 631.27L693.30 631.22L693.75 631.17L694.20 631.12L694.65 631.08L695.11 631.04L695.56 631.00L696.01 630.97L696.46 630.93L696.92 630.90L697.37 630.87L697.82 630.84L698.28 630.81L698.73 630.79L699.18 630.77L699.63 630.75L700.09 630.73L700.54 630.72L700.99 630.70L701.45 630.69L701.90 630.68L702.35 630.68L702.80 630.67L703.26 630.67" stroke="#000" stroke-linecap="square"/>
<path d="M471.89 600.22L472.34 600.22L472.80 600.22L473.25 600.22L473.70 600.22L474.15 600.22L474.61 600.22L475.06 600.22L475.51 600.22L475.97 600.22L476.42 600.22L476.87 600.22L477.32 600.22L477.78 600.22L478.23 600.22L478.68 600.22L479.14 600.22L479.59 600.22L480.04 600.22L480.49 600.22L480.95 600.22L481.40 600.22L481.85 600.22L482.30 600.22L482.76 600.22L483.21 600.22L483.66 600.22L484.12 600.22L484.57 600.22L485.02 600.22L485.47 600.22L485.93 600.22L486.38 600.22L486.83 600.22L487.29 600.22L487.74 600.22L488.19 600.22L488.64 600.22L489.10 600.22L489.55 600.22L490.00 600.22L490.45 600.22L490.91 600.22L491.36 600.22L491.81 600.22L492.27 600.22L492.72 600.22L493.17 600.22L493.62 600.22L494.08 600.22L494.53 600.22L494.98 600.22L495.43 600.22L495.89 600.22L496.34 600.22L496.79 600.22L497.25 600.22L497.70 600.22L498.15 600.22L498.60 600.22L499.06 600.22L499.51 600.22L499.96 600.22L500.42 600.22L500.87 600.22L501.32 600.22L501.77 600.22L502.23 600.22L502.68 600.22L503.13 600.22L503.58 600.22L504.04 600.22L504.49 600.22L504.94 600.22L505.40 600.22L505.85 600.22L506.30 600.22L506.75 600.22L507.21 600.22L507.66 600.22L508.11 600.22L508.57 600.22L509.02 600.22L509.47 600.22L509.92 600.22L510.38 600.22L510.83 600.22L511.28 600.22L511.73 600.22L512.19 600.22L512.64 600.22L513.09 600.22L513.55 600.22L514.00 600.22L514.45 600.22L514.90 600.22L515.36 600.22L515.81 600.22L516.26 600.22L516.72 600.22L517.17 600.22L517.62 600.22L518.07 600.22L518.53 600.22L518.98 600.22L519.43 600.22L519.88 600.22L520.34 600.22L520.79 600.22L521.24 600.22L521.70 600.22L522.15 600.22L522.60 600.22L523.05 600.22L523.51 600.22L523.96 600.22L524.41 600.22L524.86 600.22L525.32 600.22L525.77 600.22L526.22 600.22L526.68 600.22L527.13 600.22L527.58 600.22L528.03 600.22L528.49 600.22L528.94 600.22L529.39 600.22L529.85 600.22L530.30 600.22L530.75 600.22L531.20 600.22L531.66 600.22L532.11 600.22L532.56 600.22L533.01 600.22L533.47 600.22L533.92 600.22L534.37 600.22L534.83 600.22L535.28 600.22L535.73 600.22L536.18 600.22L536.64 600.22L537.09 600.22L537.54 600.22L538.00 600.22L538.45 600.22L538.90 600.22L539.35 600.22L539.81 600.23L540.26 600.23L540.71 600.23L541.16 600.23L541.62 600.23L542.07 600.23L542.52 600.23L542.98 600.23L543.43 600.23L543.88 600.23L544.33 600.23L544.79 600.23L545.24 600.23L545.69 600.23L546.15 600.23L546.60 600.23L547.05 600.23L547.50 600.24L547.96 600.24L548.41 600.24L548.86 600.24L549.31 600.24L549.77 600.24L550.22 600.24L550.67 600.25L551.13 600.25L551.58 600.25L552.03 600.25L552.48 600.26L552.94 600.26L553.39 600.26L553.84 600.27L554.30 600.27L554.75 600.27L555.20 600.28L555.65 600.28L556.11 600.29L556.56 600.29L557.01 600.30L557.46 600.30L557.92 600.31L558.37 600.32L558.82 600.33L559.28 600.34L559.73 600.34L560.18 600.35L560.63 600.37L561.09 600.38L561.54 600.39L561.99 600.40L562.44 600.42L562.90 600.43L563.35 600.45L563.80 600.47L564.26 600.49L564.71 600.51L565.16 600.53L565.61 600.56L566.07 600.58L566.52 600.61L566.97 600.64L567.43 600.68L567.88 600.71L568.33 600.75L568.78 600.79L569.24 600.83L569.69 600.88L570.14 600.93L570.59 600.98L571.05 601.04L571.50 601.11L571.95 601.17L572.41 601.24L572.86 601.32L573.31 601.40L573.76 601.49L574.22 601.58L574.67 601.68L575.12 601.79L575.58 601.90L576.03 602.03L576.48 602.16L576.93 602.30L577.39 602.44L577.84 602.60L578.29 602.77L578.74 602.94L579.20 603.13L579.65 603.33L580.10 603.54L580.56 603.77L581.01 604.00L581.46 604.25L581.91 604.51L582.37 604.79L582.82 605.09L583.27 605.39L583.73 605.72L584.18 606.06L584.63 606.41L585.08 606.79L585.54 607.18L585.99 607.58L586.44 608.01L586.89 608.45L587.35 608.91L587.80 609.39L588.25 609.88L588.71 610.40L589.16 610.93L589.61 611.48L590.06 612.04L590.52 612.63L590.97 613.23L591.42 613.85L591.87 614.48L592.33 615.14L592.78 615.80L593.23 616.49L593.69 617.18L594.14 617.90L594.59 618.63L595.04 619.37L595.50 620.12L595.95 620.89L596.40 621.67L596.86 622.46L597.31 623.27L597.76 624.08L598.21 624.91L598.67 625.74L599.12 626.59L599.57 627.45L600.02 628.31L600.48 629.18L600.93 630.07L601.38 630.96L601.84 631.85L602.29 632.76L602.74 633.67L603.19 634.59L603.65 635.51L604.10 636.44L604.55 637.38L605.01 638.32L605.46 639.27L605.91 640.22L606.36 641.18L606.82 642.14L607.27 643.11L607.72 644.08L608.17 645.05L608.63 646.03L609.08 647.02L609.53 648.00L609.99 649.00L610.44 649.99L610.89 650.99L611.34 651.99L611.80 653.00L612.25 654.01L612.70 655.02L613.16 656.04L613.61 657.06L614.06 658.09L614.51 659.11L614.97 660.14L615.42 661.18L615.87 662.21L616.32 663.26L616.78 664.30L617.23 665.35L617.68 666.40L618.14 667.45L618.59 668.51L619.04 669.57L619.49 670.63L619.95 671.70L620.40 672.77L620.85 673.84L621.30 674.92L621.76 676.00L622.21 677.09L622.66 678.18L623.12 679.27L623.57 680.36L624.02 681.46L624.47 682.57L624.93 683.67L625.38 684.79L625.83 685.90L626.29 687.02L626.74 688.14L627.19 689.27L627.64 690.40L628.10 691.54L628.55 692.68L629.00 693.82L629.45 694.97L629.91 696.13L630.36 697.29L630.81 698.45L631.27 699.62L631.72 700.79L632.17 701.97L632.62 703.15L633.08 704.34L633.53 705.53L633.98 706.73L634.44 707.93L634.89 709.14L635.34 710.35L635.79 711.57L636.25 712.80L636.70 714.03L637.15 715.27L637.60 716.51L638.06 717.76L638.51 719.02L638.96 720.28L639.42 721.55L639.87 722.83L640.32 724.11L640.77 725.40L641.23 726.69L641.68 728.00L642.13 729.31L642.59 730.62L643.04 731.95L643.49 733.28L643.94 734.62L644.40 735.97L644.85 737.33L645.30 738.69L645.75 740.06L646.21 741.44L646.66 742.83L647.11 744.23L647.57 745.64L648.02 747.06L648.47 748.48L648.92 749.92L649.38 751.36L649.83 752.82" stroke="#e48001" stroke-dasharray="11.46 4.95"/>
</g>
<rect x="460" y="585" width="255" height="137" fill="none" stroke="#000" stroke-width="1.800"/>
<text class="t" x="471.89" y="752.90" text-anchor="middle">0.0</text>
<text class="t" x="587.80" y="752.90" text-anchor="middle">0.5</text>
<text class="t" x="703.71" y="752.90" text-anchor="middle">1.0</text>
<text class="t" x="446.10" y="608.40" text-anchor="end">0</text>
<text class="t" x="446.10" y="669.40" text-anchor="end">−20</text>
<text class="t" x="446.10" y="730.40" text-anchor="end">−40</text>
<text class="h" x="587.80" y="572.60" text-anchor="middle">Elliptic, 6</text>
</g>
<g>
<path d="M128 824V961M244 824V961M360 824V961M116 839H371M116 900H371" stroke="#b0b0b0" stroke-width="1.700" fill="none"/>
<path d="M128 961v7M244 961v7M360 961v7M116 839h-7M116 900h-7M116 961h-7" stroke="#000" stroke-width="1.800" fill="none"/>
<g clip-path="url(#c30)" fill="none" stroke-width="3.300" stroke-linejoin="round">
<path d="M127.79 839.37L128.24 839.37L128.70 839.37L129.15 839.37L129.60 839.37L130.05 839.37L130.51 839.37L130.96 839.36L131.41 839.36L131.87 839.36L132.32 839.35L132.77 839.35L133.22 839.35L133.68 839.34L134.13 839.34L134.58 839.33L135.04 839.33L135.49 839.32L135.94 839.32L136.39 839.31L136.85 839.31L137.30 839.30L137.75 839.29L138.20 839.29L138.66 839.28L139.11 839.28L139.56 839.27L140.02 839.27L140.47 839.26L140.92 839.26L141.37 839.25L141.83 839.25L142.28 839.24L142.73 839.24L143.19 839.24L143.64 839.23L144.09 839.23L144.54 839.23L145.00 839.23L145.45 839.22L145.90 839.22L146.35 839.22L146.81 839.22L147.26 839.22L147.71 839.22L148.17 839.22L148.62 839.23L149.07 839.23L149.52 839.23L149.98 839.23L150.43 839.23L150.88 839.24L151.33 839.24L151.79 839.25L152.24 839.25L152.69 839.26L153.15 839.26L153.60 839.27L154.05 839.27L154.50 839.28L154.96 839.28L155.41 839.29L155.86 839.29L156.32 839.30L156.77 839.31L157.22 839.31L157.67 839.32L158.13 839.32L158.58 839.33L159.03 839.33L159.48 839.34L159.94 839.34L160.39 839.35L160.84 839.35L161.30 839.36L161.75 839.36L162.20 839.36L162.65 839.37L163.11 839.37L163.56 839.37L164.01 839.37L164.47 839.37L164.92 839.37L165.37 839.37L165.82 839.37L166.28 839.37L166.73 839.37L167.18 839.37L167.63 839.37L168.09 839.36L168.54 839.36L168.99 839.36L169.45 839.35L169.90 839.35L170.35 839.34L170.80 839.34L171.26 839.33L171.71 839.33L172.16 839.32L172.62 839.31L173.07 839.31L173.52 839.30L173.97 839.29L174.43 839.29L174.88 839.28L175.33 839.28L175.78 839.27L176.24 839.26L176.69 839.26L177.14 839.25L177.60 839.25L178.05 839.24L178.50 839.24L178.95 839.23L179.41 839.23L179.86 839.23L180.31 839.23L180.76 839.22L181.22 839.22L181.67 839.22L182.12 839.22L182.58 839.22L183.03 839.22L183.48 839.23L183.93 839.23L184.39 839.23L184.84 839.24L185.29 839.24L185.75 839.25L186.20 839.25L186.65 839.26L187.10 839.26L187.56 839.27L188.01 839.28L188.46 839.29L188.91 839.29L189.37 839.30L189.82 839.31L190.27 839.32L190.73 839.32L191.18 839.33L191.63 839.34L192.08 839.34L192.54 839.35L192.99 839.35L193.44 839.36L193.90 839.36L194.35 839.37L194.80 839.37L195.25 839.37L195.71 839.37L196.16 839.37L196.61 839.37L197.06 839.37L197.52 839.37L197.97 839.37L198.42 839.36L198.88 839.36L199.33 839.35L199.78 839.35L200.23 839.34L200.69 839.33L201.14 839.33L201.59 839.32L202.05 839.31L202.50 839.30L202.95 839.29L203.40 839.28L203.86 839.27L204.31 839.27L204.76 839.26L205.21 839.25L205.67 839.24L206.12 839.24L206.57 839.23L207.03 839.23L207.48 839.23L207.93 839.22L208.38 839.22L208.84 839.22L209.29 839.22L209.74 839.23L210.20 839.23L210.65 839.24L211.10 839.24L211.55 839.25L212.01 839.26L212.46 839.27L212.91 839.28L213.36 839.29L213.82 839.30L214.27 839.31L214.72 839.32L215.18 839.33L215.63 839.34L216.08 839.35L216.53 839.36L216.99 839.36L217.44 839.37L217.89 839.37L218.34 839.37L218.80 839.37L219.25 839.37L219.70 839.37L220.16 839.36L220.61 839.36L221.06 839.35L221.51 839.34L221.97 839.33L222.42 839.31L222.87 839.30L223.33 839.29L223.78 839.27L224.23 839.26L224.68 839.25L225.14 839.24L225.59 839.23L226.04 839.23L226.49 839.22L226.95 839.22L227.40 839.23L227.85 839.23L228.31 839.24L228.76 839.25L229.21 839.26L229.66 839.28L230.12 839.30L230.57 839.31L231.02 839.33L231.48 839.35L231.93 839.36L232.38 839.37L232.83 839.37L233.29 839.37L233.74 839.37L234.19 839.36L234.64 839.35L235.10 839.33L235.55 839.31L236.00 839.28L236.46 839.26L236.91 839.24L237.36 839.23L237.81 839.22L238.27 839.23L238.72 839.24L239.17 839.26L239.63 839.29L240.08 839.33L240.53 839.36L240.98 839.37L241.44 839.37L241.89 839.34L242.34 839.29L242.79 839.24L243.25 839.23L243.70 839.37L244.15 839.83L244.61 840.85L245.06 842.69L245.51 845.51L245.96 849.32L246.42 853.91L246.87 859.00L247.32 864.36L247.77 869.79L248.23 875.19L248.68 880.49L249.13 885.67L249.59 890.72L250.04 895.64L250.49 900.42L250.94 905.08L251.40 909.62L251.85 914.05L252.30 918.38L252.76 922.62L253.21 926.77L253.66 930.84L254.11 934.83L254.57 938.75L255.02 942.61L255.47 946.41L255.92 950.14L256.38 953.83L256.83 957.46L257.28 961.04L257.74 964.58L258.19 968.07L258.64 971.53L259.09 974.94L259.55 978.32L260.00 981.67L260.45 984.98L260.91 988.26L261.36 991.51" stroke="#000" stroke-linecap="square"/>
<path d="M127.79 839.22L128.24 839.22L128.70 839.22L129.15 839.22L129.60 839.22L130.05 839.22L130.51 839.22L130.96 839.22L131.41 839.22L131.87 839.22L132.32 839.22L132.77 839.22L133.22 839.22L133.68 839.22L134.13 839.22L134.58 839.22L135.04 839.22L135.49 839.22L135.94 839.22L136.39 839.22L136.85 839.22L137.30 839.22L137.75 839.22L138.20 839.22L138.66 839.22L139.11 839.22L139.56 839.22L140.02 839.22L140.47 839.22L140.92 839.22L141.37 839.22L141.83 839.22L142.28 839.22L142.73 839.22L143.19 839.22L143.64 839.22L144.09 839.22L144.54 839.22L145.00 839.22L145.45 839.22L145.90 839.22L146.35 839.22L146.81 839.22L147.26 839.22L147.71 839.22L148.17 839.22L148.62 839.22L149.07 839.22L149.52 839.22L149.98 839.22L150.43 839.22L150.88 839.22L151.33 839.22L151.79 839.22L152.24 839.22L152.69 839.22L153.15 839.22L153.60 839.22L154.05 839.22L154.50 839.22L154.96 839.22L155.41 839.22L155.86 839.22L156.32 839.22L156.77 839.22L157.22 839.22L157.67 839.22L158.13 839.22L158.58 839.22L159.03 839.22L159.48 839.22L159.94 839.22L160.39 839.22L160.84 839.22L161.30 839.22L161.75 839.22L162.20 839.22L162.65 839.22L163.11 839.22L163.56 839.22L164.01 839.22L164.47 839.22L164.92 839.22L165.37 839.22L165.82 839.22L166.28 839.22L166.73 839.22L167.18 839.22L167.63 839.22L168.09 839.22L168.54 839.22L168.99 839.22L169.45 839.22L169.90 839.22L170.35 839.22L170.80 839.22L171.26 839.22L171.71 839.22L172.16 839.22L172.62 839.22L173.07 839.22L173.52 839.22L173.97 839.22L174.43 839.22L174.88 839.22L175.33 839.22L175.78 839.22L176.24 839.22L176.69 839.22L177.14 839.22L177.60 839.22L178.05 839.22L178.50 839.22L178.95 839.22L179.41 839.22L179.86 839.22L180.31 839.22L180.76 839.22L181.22 839.22L181.67 839.22L182.12 839.22L182.58 839.22L183.03 839.22L183.48 839.22L183.93 839.22L184.39 839.22L184.84 839.22L185.29 839.22L185.75 839.22L186.20 839.22L186.65 839.22L187.10 839.22L187.56 839.22L188.01 839.22L188.46 839.22L188.91 839.22L189.37 839.22L189.82 839.22L190.27 839.22L190.73 839.22L191.18 839.22L191.63 839.22L192.08 839.22L192.54 839.22L192.99 839.22L193.44 839.22L193.90 839.22L194.35 839.22L194.80 839.22L195.25 839.22L195.71 839.23L196.16 839.23L196.61 839.23L197.06 839.23L197.52 839.23L197.97 839.23L198.42 839.23L198.88 839.23L199.33 839.23L199.78 839.23L200.23 839.23L200.69 839.23L201.14 839.23L201.59 839.23L202.05 839.23L202.50 839.23L202.95 839.23L203.40 839.24L203.86 839.24L204.31 839.24L204.76 839.24L205.21 839.24L205.67 839.24L206.12 839.24L206.57 839.25L207.03 839.25L207.48 839.25L207.93 839.25L208.38 839.26L208.84 839.26L209.29 839.26L209.74 839.27L210.20 839.27L210.65 839.27L211.10 839.28L211.55 839.28L212.01 839.29L212.46 839.29L212.91 839.30L213.36 839.30L213.82 839.31L214.27 839.32L214.72 839.33L215.18 839.34L215.63 839.34L216.08 839.35L216.53 839.37L216.99 839.38L217.44 839.39L217.89 839.40L218.34 839.42L218.80 839.43L219.25 839.45L219.70 839.47L220.16 839.49L220.61 839.51L221.06 839.53L221.51 839.56L221.97 839.58L222.42 839.61L222.87 839.64L223.33 839.68L223.78 839.71L224.23 839.75L224.68 839.79L225.14 839.83L225.59 839.88L226.04 839.93L226.49 839.98L226.95 840.04L227.40 840.11L227.85 840.17L228.31 840.24L228.76 840.32L229.21 840.40L229.66 840.49L230.12 840.58L230.57 840.68L231.02 840.79L231.48 840.90L231.93 841.03L232.38 841.16L232.83 841.30L233.29 841.44L233.74 841.60L234.19 841.77L234.64 841.94L235.10 842.13L235.55 842.33L236.00 842.54L236.46 842.77L236.91 843.00L237.36 843.25L237.81 843.51L238.27 843.79L238.72 844.09L239.17 844.39L239.63 844.72L240.08 845.06L240.53 845.41L240.98 845.79L241.44 846.18L241.89 846.58L242.34 847.01L242.79 847.45L243.25 847.91L243.70 848.39L244.15 848.88L244.61 849.40L245.06 849.93L245.51 850.48L245.96 851.04L246.42 851.63L246.87 852.23L247.32 852.85L247.77 853.48L248.23 854.14L248.68 854.80L249.13 855.49L249.59 856.18L250.04 856.90L250.49 857.63L250.94 858.37L251.40 859.12L251.85 859.89L252.30 860.67L252.76 861.46L253.21 862.27L253.66 863.08L254.11 863.91L254.57 864.74L255.02 865.59L255.47 866.45L255.92 867.31L256.38 868.18L256.83 869.07L257.28 869.96L257.74 870.85L258.19 871.76L258.64 872.67L259.09 873.59L259.55 874.51L260.00 875.44L260.45 876.38L260.91 877.32L261.36 878.27L261.81 879.22L262.26 880.18L262.72 881.14L263.17 882.11L263.62 883.08L264.07 884.05L264.53 885.03L264.98 886.02L265.43 887.00L265.89 888.00L266.34 888.99L266.79 889.99L267.24 890.99L267.70 892.00L268.15 893.01L268.60 894.02L269.06 895.04L269.51 896.06L269.96 897.09L270.41 898.11L270.87 899.14L271.32 900.18L271.77 901.21L272.22 902.26L272.68 903.30L273.13 904.35L273.58 905.40L274.04 906.45L274.49 907.51L274.94 908.57L275.39 909.63L275.85 910.70L276.30 911.77L276.75 912.84L277.20 913.92L277.66 915.00L278.11 916.09L278.56 917.18L279.02 918.27L279.47 919.36L279.92 920.46L280.37 921.57L280.83 922.67L281.28 923.79L281.73 924.90L282.19 926.02L282.64 927.14L283.09 928.27L283.54 929.40L284.00 930.54L284.45 931.68L284.90 932.82L285.35 933.97L285.81 935.13L286.26 936.29L286.71 937.45L287.17 938.62L287.62 939.79L288.07 940.97L288.52 942.15L288.98 943.34L289.43 944.53L289.88 945.73L290.34 946.93L290.79 948.14L291.24 949.35L291.69 950.57L292.15 951.80L292.60 953.03L293.05 954.27L293.50 955.51L293.96 956.76L294.41 958.02L294.86 959.28L295.32 960.55L295.77 961.83L296.22 963.11L296.67 964.40L297.13 965.69L297.58 967.00L298.03 968.31L298.49 969.62L298.94 970.95L299.39 972.28L299.84 973.62L300.30 974.97L300.75 976.33L301.20 977.69L301.65 979.06L302.11 980.44L302.56 981.83L303.01 983.23L303.47 984.64L303.92 986.06L304.37 987.48L304.82 988.92L305.28 990.36L305.73 991.82" stroke="#e48001" stroke-dasharray="11.46 4.95"/>
</g>
<rect x="116" y="824" width="255" height="137" fill="none" stroke="#000" stroke-width="1.800"/>
<text class="t" x="127.79" y="991.90" text-anchor="middle">0.0</text>
<text class="t" x="243.70" y="991.90" text-anchor="middle">0.5</text>
<text class="t" x="359.61" y="991.90" text-anchor="middle">1.0</text>
<text class="t" x="102.00" y="847.40" text-anchor="end">0</text>
<text class="t" x="102.00" y="908.40" text-anchor="end">−20</text>
<text class="t" x="102.00" y="969.40" text-anchor="end">−40</text>
<text class="h" x="243.70" y="811.60" text-anchor="middle">Chebyshev1, 12</text>
</g>
<g>
<path d="M472 824V961M588 824V961M704 824V961M460 839H715M460 900H715" stroke="#b0b0b0" stroke-width="1.700" fill="none"/>
<path d="M472 961v7M588 961v7M704 961v7M460 839h-7M460 900h-7M460 961h-7" stroke="#000" stroke-width="1.800" fill="none"/>
<g clip-path="url(#c31)" fill="none" stroke-width="3.300" stroke-linejoin="round">
<path d="M471.89 839.37L472.34 839.37L472.80 839.37L473.25 839.37L473.70 839.37L474.15 839.37L474.61 839.37L475.06 839.37L475.51 839.37L475.97 839.37L476.42 839.37L476.87 839.37L477.32 839.37L477.78 839.37L478.23 839.37L478.68 839.37L479.14 839.37L479.59 839.37L480.04 839.37L480.49 839.37L480.95 839.37L481.40 839.37L481.85 839.37L482.30 839.37L482.76 839.37L483.21 839.37L483.66 839.37L484.12 839.37L484.57 839.36L485.02 839.36L485.47 839.36L485.93 839.36L486.38 839.36L486.83 839.36L487.29 839.36L487.74 839.36L488.19 839.36L488.64 839.36L489.10 839.36L489.55 839.36L490.00 839.35L490.45 839.35L490.91 839.35L491.36 839.35L491.81 839.35L492.27 839.35L492.72 839.35L493.17 839.35L493.62 839.35L494.08 839.34L494.53 839.34L494.98 839.34L495.43 839.34L495.89 839.34L496.34 839.34L496.79 839.34L497.25 839.34L497.70 839.33L498.15 839.33L498.60 839.33L499.06 839.33L499.51 839.33L499.96 839.33L500.42 839.33L500.87 839.33L501.32 839.32L501.77 839.32L502.23 839.32L502.68 839.32L503.13 839.32L503.58 839.32L504.04 839.32L504.49 839.31L504.94 839.31L505.40 839.31L505.85 839.31L506.30 839.31L506.75 839.31L507.21 839.30L507.66 839.30L508.11 839.30L508.57 839.30L509.02 839.30L509.47 839.30L509.92 839.29L510.38 839.29L510.83 839.29L511.28 839.29L511.73 839.29L512.19 839.29L512.64 839.29L513.09 839.28L513.55 839.28L514.00 839.28L514.45 839.28L514.90 839.28L515.36 839.28L515.81 839.27L516.26 839.27L516.72 839.27L517.17 839.27L517.62 839.27L518.07 839.27L518.53 839.26L518.98 839.26L519.43 839.26L519.88 839.26L520.34 839.26L520.79 839.26L521.24 839.26L521.70 839.25L522.15 839.25L522.60 839.25L523.05 839.25L523.51 839.25L523.96 839.25L524.41 839.25L524.86 839.24L525.32 839.24L525.77 839.24L526.22 839.24L526.68 839.24L527.13 839.24L527.58 839.24L528.03 839.24L528.49 839.23L528.94 839.23L529.39 839.23L529.85 839.23L530.30 839.23L530.75 839.23L531.20 839.23L531.66 839.23L532.11 839.23L532.56 839.23L533.01 839.23L533.47 839.23L533.92 839.22L534.37 839.22L534.83 839.22L535.28 839.22L535.73 839.22L536.18 839.22L536.64 839.22L537.09 839.22L537.54 839.22L538.00 839.22L538.45 839.22L538.90 839.22L539.35 839.22L539.81 839.22L540.26 839.22L540.71 839.22L541.16 839.22L541.62 839.22L542.07 839.23L542.52 839.23L542.98 839.23L543.43 839.23L543.88 839.23L544.33 839.23L544.79 839.23L545.24 839.23L545.69 839.23L546.15 839.23L546.60 839.24L547.05 839.24L547.50 839.24L547.96 839.24L548.41 839.24L548.86 839.24L549.31 839.25L549.77 839.25L550.22 839.25L550.67 839.25L551.13 839.26L551.58 839.26L552.03 839.26L552.48 839.26L552.94 839.27L553.39 839.27L553.84 839.27L554.30 839.27L554.75 839.28L555.20 839.28L555.65 839.28L556.11 839.29L556.56 839.29L557.01 839.29L557.46 839.30L557.92 839.30L558.37 839.31L558.82 839.31L559.28 839.31L559.73 839.32L560.18 839.32L560.63 839.32L561.09 839.33L561.54 839.33L561.99 839.33L562.44 839.34L562.90 839.34L563.35 839.34L563.80 839.35L564.26 839.35L564.71 839.35L565.16 839.36L565.61 839.36L566.07 839.36L566.52 839.37L566.97 839.37L567.43 839.37L567.88 839.37L568.33 839.37L568.78 839.37L569.24 839.37L569.69 839.37L570.14 839.37L570.59 839.37L571.05 839.37L571.50 839.37L571.95 839.37L572.41 839.37L572.86 839.36L573.31 839.36L573.76 839.35L574.22 839.35L574.67 839.34L575.12 839.33L575.58 839.33L576.03 839.32L576.48 839.31L576.93 839.30L577.39 839.29L577.84 839.28L578.29 839.27L578.74 839.26L579.20 839.25L579.65 839.24L580.10 839.23L580.56 839.23L581.01 839.22L581.46 839.22L581.91 839.22L582.37 839.23L582.82 839.24L583.27 839.26L583.73 839.28L584.18 839.31L584.63 839.34L585.08 839.36L585.54 839.37L585.99 839.36L586.44 839.30L586.89 839.23L587.35 839.30L587.80 839.37L588.25 877.03L588.71 909.85L589.16 877.35L589.61 870.91L590.06 869.67L590.52 870.67L590.97 873.08L591.42 876.63L591.87 881.31L592.33 887.33L592.78 895.21L593.23 906.18L593.69 924.14L594.14 990.26L594.59 930.91L595.04 912.29L595.50 902.21L595.95 895.50L596.40 890.60L596.86 886.84L597.31 883.85L597.76 881.43L598.21 879.44L598.67 877.77L599.12 876.37L599.57 875.19L600.02 874.19L600.48 873.34L600.93 872.61L601.38 872.00L601.84 871.48L602.29 871.05L602.74 870.68L603.19 870.39L603.65 870.15L604.10 869.97L604.55 869.83L605.01 869.74L605.46 869.68L605.91 869.67L606.36 869.68L606.82 869.73L607.27 869.81L607.72 869.92L608.17 870.05L608.63 870.21L609.08 870.40L609.53 870.60L609.99 870.83L610.44 871.08L610.89 871.35L611.34 871.64L611.80 871.95L612.25 872.28L612.70 872.63L613.16 872.99L613.61 873.38L614.06 873.78L614.51 874.20L614.97 874.64L615.42 875.10L615.87 875.58L616.32 876.07L616.78 876.59L617.23 877.12L617.68 877.67L618.14 878.24L618.59 878.83L619.04 879.45L619.49 880.08L619.95 880.73L620.40 881.41L620.85 882.11L621.30 882.83L621.76 883.58L622.21 884.36L622.66 885.16L623.12 885.99L623.57 886.85L624.02 887.74L624.47 888.67L624.93 889.62L625.38 890.62L625.83 891.66L626.29 892.73L626.74 893.86L627.19 895.03L627.64 896.26L628.10 897.54L628.55 898.88L629.00 900.30L629.45 901.79L629.91 903.36L630.36 905.03L630.81 906.80L631.27 908.69L631.72 910.72L632.17 912.91L632.62 915.28L633.08 917.88L633.53 920.73L633.98 923.92L634.44 927.52L634.89 931.66L635.34 936.54L635.79 942.48L636.25 950.09L636.70 960.74L637.15 978.64L637.60 1064.46L638.06 981.00L638.51 962.22L638.96 951.42L639.42 943.83L639.87 937.98L640.32 933.23L640.77 929.24L641.23 925.80L641.68 922.78L642.13 920.10L642.59 917.69L643.04 915.49L643.49 913.49L643.94 911.64L644.40 909.93L644.85 908.34L645.30 906.86L645.75 905.46L646.21 904.16L646.66 902.92L647.11 901.75L647.57 900.65L648.02 899.60L648.47 898.60L648.92 897.65L649.38 896.74L649.83 895.87L650.28 895.04L650.74 894.24L651.19 893.48L651.64 892.74L652.09 892.03L652.55 891.35L653.00 890.70L653.45 890.07L653.90 889.46L654.36 888.87L654.81 888.30L655.26 887.75L655.72 887.22L656.17 886.71L656.62 886.21L657.07 885.73L657.53 885.26L657.98 884.80L658.43 884.36L658.88 883.94L659.34 883.52L659.79 883.12L660.24 882.73L660.70 882.35L661.15 881.98L661.60 881.62L662.05 881.27L662.51 880.93L662.96 880.60L663.41 880.27L663.87 879.96L664.32 879.65L664.77 879.36L665.22 879.07L665.68 878.78L666.13 878.51L666.58 878.24L667.03 877.98L667.49 877.72L667.94 877.47L668.39 877.23L668.85 876.99L669.30 876.76L669.75 876.54L670.20 876.32L670.66 876.10L671.11 875.90L671.56 875.69L672.02 875.49L672.47 875.30L672.92 875.11L673.37 874.92L673.83 874.74L674.28 874.57L674.73 874.40L675.18 874.23L675.64 874.07L676.09 873.91L676.54 873.75L677.00 873.60L677.45 873.45L677.90 873.31L678.35 873.17L678.81 873.03L679.26 872.90L679.71 872.77L680.17 872.64L680.62 872.52L681.07 872.40L681.52 872.28L681.98 872.17L682.43 872.06L682.88 871.95L683.33 871.84L683.79 871.74L684.24 871.64L684.69 871.55L685.15 871.45L685.60 871.36L686.05 871.28L686.50 871.19L686.96 871.11L687.41 871.03L687.86 870.95L688.31 870.88L688.77 870.80L689.22 870.73L689.67 870.67L690.13 870.60L690.58 870.54L691.03 870.48L691.48 870.42L691.94 870.36L692.39 870.31L692.84 870.26L693.30 870.21L693.75 870.16L694.20 870.12L694.65 870.07L695.11 870.03L695.56 870.00L696.01 869.96L696.46 869.93L696.92 869.90L697.37 869.87L697.82 869.84L698.28 869.81L698.73 869.79L699.18 869.77L699.63 869.75L700.09 869.73L700.54 869.72L700.99 869.70L701.45 869.69L701.90 869.68L702.35 869.68L702.80 869.67L703.26 869.67" stroke="#000" stroke-linecap="square"/>
<path d="M471.89 839.22L472.34 839.22L472.80 839.22L473.25 839.22L473.70 839.22L474.15 839.22L474.61 839.22L475.06 839.22L475.51 839.22L475.97 839.22L476.42 839.22L476.87 839.22L477.32 839.22L477.78 839.22L478.23 839.22L478.68 839.22L479.14 839.22L479.59 839.22L480.04 839.22L480.49 839.22L480.95 839.22L481.40 839.22L481.85 839.22L482.30 839.22L482.76 839.22L483.21 839.22L483.66 839.22L484.12 839.22L484.57 839.22L485.02 839.22L485.47 839.22L485.93 839.22L486.38 839.22L486.83 839.22L487.29 839.22L487.74 839.22L488.19 839.22L488.64 839.22L489.10 839.22L489.55 839.22L490.00 839.22L490.45 839.22L490.91 839.22L491.36 839.22L491.81 839.22L492.27 839.22L492.72 839.22L493.17 839.22L493.62 839.22L494.08 839.22L494.53 839.22L494.98 839.22L495.43 839.22L495.89 839.22L496.34 839.22L496.79 839.22L497.25 839.22L497.70 839.22L498.15 839.22L498.60 839.22L499.06 839.22L499.51 839.22L499.96 839.22L500.42 839.22L500.87 839.22L501.32 839.22L501.77 839.22L502.23 839.22L502.68 839.22L503.13 839.22L503.58 839.22L504.04 839.22L504.49 839.22L504.94 839.22L505.40 839.22L505.85 839.22L506.30 839.22L506.75 839.22L507.21 839.22L507.66 839.22L508.11 839.22L508.57 839.22L509.02 839.22L509.47 839.22L509.92 839.22L510.38 839.22L510.83 839.22L511.28 839.22L511.73 839.22L512.19 839.22L512.64 839.22L513.09 839.22L513.55 839.22L514.00 839.22L514.45 839.22L514.90 839.22L515.36 839.22L515.81 839.22L516.26 839.22L516.72 839.22L517.17 839.22L517.62 839.22L518.07 839.22L518.53 839.22L518.98 839.22L519.43 839.22L519.88 839.22L520.34 839.22L520.79 839.22L521.24 839.22L521.70 839.22L522.15 839.22L522.60 839.22L523.05 839.22L523.51 839.22L523.96 839.22L524.41 839.22L524.86 839.22L525.32 839.22L525.77 839.22L526.22 839.22L526.68 839.22L527.13 839.22L527.58 839.22L528.03 839.22L528.49 839.22L528.94 839.22L529.39 839.22L529.85 839.22L530.30 839.22L530.75 839.22L531.20 839.22L531.66 839.22L532.11 839.22L532.56 839.22L533.01 839.22L533.47 839.22L533.92 839.22L534.37 839.22L534.83 839.22L535.28 839.22L535.73 839.22L536.18 839.22L536.64 839.22L537.09 839.22L537.54 839.22L538.00 839.22L538.45 839.22L538.90 839.22L539.35 839.22L539.81 839.23L540.26 839.23L540.71 839.23L541.16 839.23L541.62 839.23L542.07 839.23L542.52 839.23L542.98 839.23L543.43 839.23L543.88 839.23L544.33 839.23L544.79 839.23L545.24 839.23L545.69 839.23L546.15 839.23L546.60 839.23L547.05 839.23L547.50 839.24L547.96 839.24L548.41 839.24L548.86 839.24L549.31 839.24L549.77 839.24L550.22 839.24L550.67 839.25L551.13 839.25L551.58 839.25L552.03 839.25L552.48 839.26L552.94 839.26L553.39 839.26L553.84 839.27L554.30 839.27L554.75 839.27L555.20 839.28L555.65 839.28L556.11 839.29L556.56 839.29L557.01 839.30L557.46 839.30L557.92 839.31L558.37 839.32L558.82 839.33L559.28 839.34L559.73 839.34L560.18 839.35L560.63 839.37L561.09 839.38L561.54 839.39L561.99 839.40L562.44 839.42L562.90 839.43L563.35 839.45L563.80 839.47L564.26 839.49L564.71 839.51L565.16 839.53L565.61 839.56L566.07 839.58L566.52 839.61L566.97 839.64L567.43 839.68L567.88 839.71L568.33 839.75L568.78 839.79L569.24 839.83L569.69 839.88L570.14 839.93L570.59 839.98L571.05 840.04L571.50 840.11L571.95 840.17L572.41 840.24L572.86 840.32L573.31 840.40L573.76 840.49L574.22 840.58L574.67 840.68L575.12 840.79L575.58 840.90L576.03 841.03L576.48 841.16L576.93 841.30L577.39 841.44L577.84 841.60L578.29 841.77L578.74 841.94L579.20 842.13L579.65 842.33L580.10 842.54L580.56 842.77L581.01 843.00L581.46 843.25L581.91 843.51L582.37 843.79L582.82 844.09L583.27 844.39L583.73 844.72L584.18 845.06L584.63 845.41L585.08 845.79L585.54 846.18L585.99 846.58L586.44 847.01L586.89 847.45L587.35 847.91L587.80 848.39L588.25 848.88L588.71 849.40L589.16 849.93L589.61 850.48L590.06 851.04L590.52 851.63L590.97 852.23L591.42 852.85L591.87 853.48L592.33 854.14L592.78 854.80L593.23 855.49L593.69 856.18L594.14 856.90L594.59 857.63L595.04 858.37L595.50 859.12L595.95 859.89L596.40 860.67L596.86 861.46L597.31 862.27L597.76 863.08L598.21 863.91L598.67 864.74L599.12 865.59L599.57 866.45L600.02 867.31L600.48 868.18L600.93 869.07L601.38 869.96L601.84 870.85L602.29 871.76L602.74 872.67L603.19 873.59L603.65 874.51L604.10 875.44L604.55 876.38L605.01 877.32L605.46 878.27L605.91 879.22L606.36 880.18L606.82 881.14L607.27 882.11L607.72 883.08L608.17 884.05L608.63 885.03L609.08 886.02L609.53 887.00L609.99 888.00L610.44 888.99L610.89 889.99L611.34 890.99L611.80 892.00L612.25 893.01L612.70 894.02L613.16 895.04L613.61 896.06L614.06 897.09L614.51 898.11L614.97 899.14L615.42 900.18L615.87 901.21L616.32 902.26L616.78 903.30L617.23 904.35L617.68 905.40L618.14 906.45L618.59 907.51L619.04 908.57L619.49 909.63L619.95 910.70L620.40 911.77L620.85 912.84L621.30 913.92L621.76 915.00L622.21 916.09L622.66 917.18L623.12 918.27L623.57 919.36L624.02 920.46L624.47 921.57L624.93 922.67L625.38 923.79L625.83 924.90L626.29 926.02L626.74 927.14L627.19 928.27L627.64 929.40L628.10 930.54L628.55 931.68L629.00 932.82L629.45 933.97L629.91 935.13L630.36 936.29L630.81 937.45L631.27 938.62L631.72 939.79L632.17 940.97L632.62 942.15L633.08 943.34L633.53 944.53L633.98 945.73L634.44 946.93L634.89 948.14L635.34 949.35L635.79 950.57L636.25 951.80L636.70 953.03L637.15 954.27L637.60 955.51L638.06 956.76L638.51 958.02L638.96 959.28L639.42 960.55L639.87 961.83L640.32 963.11L640.77 964.40L641.23 965.69L641.68 967.00L642.13 968.31L642.59 969.62L643.04 970.95L643.49 972.28L643.94 973.62L644.40 974.97L644.85 976.33L645.30 977.69L645.75 979.06L646.21 980.44L646.66 981.83L647.11 983.23L647.57 984.64L648.02 986.06L648.47 987.48L648.92 988.92L649.38 990.36L649.83 991.82" stroke="#e48001" stroke-dasharray="11.46 4.95"/>
</g>
<rect x="460" y="824" width="255" height="137" fill="none" stroke="#000" stroke-width="1.800"/>
<text class="t" x="471.89" y="991.90" text-anchor="middle">0.0</text>
<text class="t" x="587.80" y="991.90" text-anchor="middle">0.5</text>
<text class="t" x="703.71" y="991.90" text-anchor="middle">1.0</text>
<text class="t" x="446.10" y="847.40" text-anchor="end">0</text>
<text class="t" x="446.10" y="908.40" text-anchor="end">−20</text>
<text class="t" x="446.10" y="969.40" text-anchor="end">−40</text>
<text class="h" x="587.80" y="811.60" text-anchor="middle">Elliptic, 12</text>
</g>
<rect x="226.0" y="10.3" width="379.0" height="36.5" rx="4.2" ry="4.2" fill="#fff" stroke="#cccccc" stroke-opacity="0.8" stroke-width="2.083"/>
<path d="M234.3 26.9H275.7" stroke="#e48001" stroke-width="3.300" stroke-dasharray="11.46 4.95" fill="none"/>
<text class="t" x="292.1" y="34.1">Butterworth, 6 (Unseen filter)</text>
<text class="t" x="415.2" y="1057.4" text-anchor="middle">Normalized frequency</text>
<text class="t" transform="translate(33.1 533.5) rotate(-90)" text-anchor="middle">Magnitude (dB)</text>
</svg>
</body></html>
